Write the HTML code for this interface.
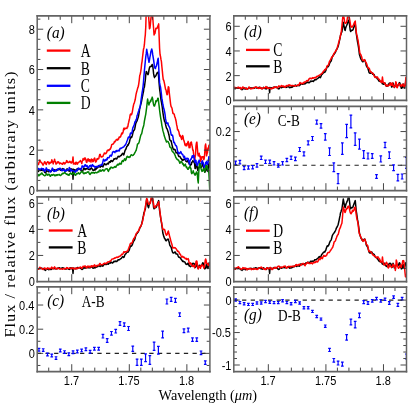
<!DOCTYPE html>
<html><head><meta charset="utf-8"><style>html,body{margin:0;padding:0;background:#fff;overflow:hidden}svg{display:block;filter:blur(0.3px)}</style></head>
<body><svg width="415" height="409" viewBox="0 0 415 409">
<rect width="415" height="409" fill="#fff"/>
<defs>
<clipPath id="cpa"><rect x="37.20" y="15.90" width="172.70" height="174.60"/></clipPath>
<clipPath id="cpb"><rect x="37.20" y="196.80" width="172.70" height="84.70"/></clipPath>
<clipPath id="cpc"><rect x="37.20" y="286.90" width="172.70" height="84.60"/></clipPath>
<clipPath id="cpd"><rect x="233.80" y="15.80" width="172.70" height="84.50"/></clipPath>
<clipPath id="cpe"><rect x="233.80" y="106.30" width="172.70" height="84.20"/></clipPath>
<clipPath id="cpf"><rect x="233.80" y="196.80" width="172.70" height="84.70"/></clipPath>
<clipPath id="cpg"><rect x="233.80" y="287.10" width="172.70" height="84.40"/></clipPath>
</defs>
<g opacity="0.999">
<polyline points="36.62,163.80 37.08,163.93 37.55,163.91 38.01,163.76 38.47,164.53 38.93,162.70 39.39,161.93 39.85,160.12 40.31,161.39 40.77,161.81 41.23,162.78 41.69,162.70 42.15,163.38 42.61,164.30 43.07,165.14 43.53,164.22 43.99,163.32 44.45,161.97 44.91,161.79 45.37,163.02 45.83,163.81 46.30,164.47 46.76,162.75 47.22,162.41 47.68,161.71 48.14,161.85 48.60,162.51 49.06,164.07 49.52,163.58 49.98,162.23 50.44,162.99 50.90,162.55 51.36,162.43 51.82,159.81 52.28,161.19 52.74,161.90 53.20,163.87 53.66,161.51 54.12,161.41 54.59,159.22 55.05,161.76 55.51,161.48 55.97,164.08 56.43,163.86 56.89,163.19 57.35,162.84 57.81,161.66 58.27,162.17 58.73,161.99 59.19,163.25 59.65,163.88 60.11,163.07 60.57,163.08 61.03,163.37 61.49,163.56 61.95,163.94 62.41,164.30 62.87,164.09 63.34,162.54 63.80,162.72 64.26,162.67 64.72,163.89 65.18,163.44 65.64,162.74 66.10,162.63 66.56,160.63 67.02,161.93 67.48,161.19 67.94,162.57 68.40,162.53 68.86,162.36 69.32,162.29 69.78,161.19 70.24,161.69 70.70,162.43 71.16,162.98 71.62,162.89 72.09,161.24 72.55,161.87 73.01,156.89 73.47,164.08 73.93,162.81 74.39,163.64 74.85,163.70 75.31,164.26 75.77,162.49 76.23,162.22 76.69,162.93 77.15,164.29 77.61,163.85 78.07,162.55 78.53,162.47 78.99,162.02 79.45,161.74 79.91,161.57 80.37,160.52 80.84,161.65 81.30,161.89 81.76,163.59 82.22,161.19 82.68,160.35 83.14,158.56 83.60,159.95 84.06,159.44 84.52,159.48 84.98,157.80 85.44,158.63 85.90,159.80 86.36,162.16 86.82,162.40 87.28,160.56 87.74,159.10 88.20,158.81 88.66,160.54 89.13,161.49 89.59,159.61 90.05,160.77 90.51,160.07 90.97,162.06 91.43,158.97 91.89,160.27 92.35,159.64 92.81,161.70 93.27,161.63 93.73,160.29 94.19,158.43 94.65,157.98 95.11,159.80 95.57,161.99 96.03,161.78 96.49,160.83 96.95,159.11 97.41,158.59 97.88,159.20 98.34,158.91 98.80,158.59 99.26,156.38 99.72,154.55 100.18,154.36 100.64,155.74 101.10,157.02 101.56,157.12 102.02,156.83 102.48,156.55 102.94,156.45 103.40,154.91 103.86,154.50 104.32,153.01 104.78,153.19 105.24,153.24 105.70,153.68 106.16,153.18 106.63,152.49 107.09,151.00 107.55,150.27 108.01,150.38 108.47,149.97 108.93,150.50 109.39,149.36 109.85,149.10 110.31,149.15 110.77,147.91 111.23,146.89 111.69,144.69 112.15,144.44 112.61,144.20 113.07,144.19 113.53,143.40 113.99,142.88 114.45,141.54 114.91,142.00 115.38,141.07 115.84,140.73 116.30,139.58 116.76,139.83 117.22,139.20 117.68,140.13 118.14,139.11 118.60,139.06 119.06,137.20 119.52,136.97 119.98,137.26 120.44,136.89 120.90,135.88 121.36,134.20 121.82,133.02 122.28,133.95 122.74,133.05 123.20,131.47 123.67,128.64 124.13,128.08 124.59,129.46 125.05,128.74 125.51,128.32 125.97,128.37 126.43,128.09 126.89,128.44 127.35,126.71 127.81,126.79 128.27,123.84 128.73,122.18 129.19,119.99 129.65,118.15 130.11,115.11 130.57,113.95 131.03,114.09 131.49,114.71 131.95,113.51 132.42,111.31 132.88,108.30 133.34,105.98 133.80,103.85 134.26,103.08 134.72,101.39 135.18,99.78 135.64,96.86 136.10,94.13 136.56,92.30 137.02,90.65 137.48,88.85 137.94,87.61 138.40,86.09 138.86,83.11 139.32,79.54 139.78,75.17 140.24,74.20 140.70,71.64 141.17,68.61 141.63,63.85 142.09,61.29 142.55,56.99 143.01,53.21 143.47,49.29 143.93,47.71 144.39,44.72 144.85,38.77 145.31,34.86 145.77,26.72 146.23,10.89 146.69,4.13 147.15,2.66 147.61,2.19 148.07,7.32 148.53,14.90 148.99,21.63 149.45,28.77 149.92,28.08 150.38,24.54 150.84,19.10 151.30,15.76 151.76,13.09 152.22,11.07 152.68,16.42 153.14,22.97 153.60,28.50 154.06,34.91 154.52,33.58 154.98,33.45 155.44,30.58 155.90,28.23 156.36,28.18 156.82,28.45 157.28,27.92 157.74,26.14 158.21,25.53 158.67,23.87 159.13,36.39 159.59,48.21 160.05,54.55 160.51,56.46 160.97,59.40 161.43,61.68 161.89,66.79 162.35,71.17 162.81,76.09 163.27,79.57 163.73,80.27 164.19,82.17 164.65,84.35 165.11,86.87 165.57,89.39 166.03,89.95 166.49,92.54 166.96,94.65 167.42,94.53 167.88,90.42 168.34,86.66 168.80,87.16 169.26,92.46 169.72,96.51 170.18,100.34 170.64,104.34 171.10,106.61 171.56,107.28 172.02,108.29 172.48,110.83 172.94,113.48 173.40,113.41 173.86,113.82 174.32,114.53 174.78,116.84 175.24,117.69 175.71,119.80 176.17,121.52 176.63,124.68 177.09,126.65 177.55,129.83 178.01,129.61 178.47,130.76 178.93,131.94 179.39,134.54 179.85,136.11 180.31,135.44 180.77,136.92 181.23,138.06 181.69,139.41 182.15,136.58 182.61,135.46 183.07,136.71 183.53,139.95 183.99,140.70 184.46,142.46 184.92,144.75 185.38,145.67 185.84,144.97 186.30,143.84 186.76,145.88 187.22,144.19 187.68,142.85 188.14,141.35 188.60,142.99 189.06,147.64 189.52,146.93 189.98,147.70 190.44,143.15 190.90,142.38 191.36,141.94 191.82,145.04 192.28,146.65 192.75,150.07 193.21,150.11 193.67,154.66 194.13,156.51 194.59,162.36 195.05,157.40 195.51,154.95 195.97,146.05 196.43,142.94 196.89,142.09 197.35,147.78 197.81,153.49 198.27,155.90 198.73,154.17 199.19,153.23 199.65,156.55 200.11,155.92 200.57,161.16 201.03,157.02 201.50,159.52 201.96,156.87 202.42,156.84 202.88,156.96 203.34,156.76 203.80,159.72 204.26,158.12 204.72,153.52 205.18,146.01 205.64,144.08 206.10,148.14 206.56,155.87 207.02,153.63 207.48,152.43 207.94,147.93 208.40,149.08 208.86,145.69 209.32,145.06 209.78,144.59 210.25,144.83" fill="none" stroke="#ff0000" stroke-width="1.5" stroke-linejoin="round" clip-path="url(#cpa)"/>
<polyline points="36.62,169.87 37.08,170.03 37.55,170.55 38.01,170.98 38.47,171.39 38.93,170.84 39.39,169.79 39.85,169.49 40.31,169.89 40.77,170.38 41.23,169.88 41.69,169.45 42.15,170.28 42.61,170.50 43.07,170.15 43.53,170.39 43.99,170.63 44.45,172.14 44.91,172.11 45.37,172.91 45.83,171.93 46.30,171.92 46.76,170.68 47.22,170.45 47.68,169.82 48.14,171.44 48.60,171.84 49.06,171.76 49.52,170.22 49.98,170.80 50.44,171.04 50.90,171.67 51.36,171.25 51.82,170.35 52.28,170.25 52.74,169.79 53.20,169.89 53.66,169.76 54.12,169.80 54.59,170.25 55.05,169.87 55.51,170.51 55.97,170.53 56.43,169.77 56.89,169.95 57.35,169.49 57.81,170.21 58.27,169.68 58.73,169.01 59.19,168.63 59.65,168.96 60.11,170.07 60.57,170.18 61.03,169.58 61.49,169.23 61.95,169.60 62.41,169.10 62.87,168.65 63.34,169.00 63.80,169.27 64.26,170.37 64.72,169.90 65.18,170.71 65.64,170.77 66.10,170.96 66.56,169.74 67.02,168.73 67.48,169.38 67.94,170.37 68.40,170.65 68.86,171.04 69.32,170.84 69.78,171.27 70.24,169.38 70.70,168.70 71.16,168.83 71.62,169.77 72.09,170.32 72.55,169.24 73.01,179.21 73.47,169.29 73.93,169.97 74.39,169.79 74.85,169.72 75.31,170.57 75.77,170.51 76.23,170.64 76.69,169.28 77.15,168.86 77.61,168.58 78.07,168.84 78.53,169.38 78.99,168.72 79.45,169.08 79.91,168.51 80.37,169.84 80.84,169.60 81.30,170.89 81.76,171.29 82.22,171.64 82.68,171.15 83.14,169.83 83.60,168.32 84.06,168.24 84.52,168.67 84.98,169.82 85.44,169.02 85.90,168.72 86.36,168.93 86.82,168.78 87.28,168.34 87.74,168.79 88.20,169.21 88.66,169.46 89.13,169.43 89.59,169.20 90.05,169.69 90.51,168.48 90.97,168.48 91.43,167.90 91.89,168.78 92.35,168.92 92.81,170.11 93.27,170.39 93.73,170.07 94.19,170.12 94.65,168.93 95.11,170.13 95.57,168.41 96.03,169.25 96.49,167.58 96.95,167.76 97.41,167.97 97.88,167.50 98.34,166.55 98.80,165.50 99.26,166.19 99.72,166.93 100.18,167.27 100.64,166.28 101.10,166.31 101.56,165.58 102.02,166.49 102.48,166.35 102.94,166.87 103.40,165.48 103.86,165.02 104.32,163.52 104.78,164.05 105.24,164.17 105.70,164.67 106.16,164.73 106.63,164.04 107.09,163.80 107.55,163.37 108.01,163.90 108.47,163.88 108.93,162.47 109.39,161.78 109.85,161.65 110.31,162.14 110.77,160.65 111.23,160.61 111.69,160.66 112.15,161.57 112.61,161.47 113.07,160.65 113.53,160.02 113.99,158.68 114.45,159.27 114.91,158.71 115.38,158.81 115.84,158.22 116.30,158.89 116.76,159.05 117.22,157.95 117.68,157.37 118.14,156.25 118.60,156.81 119.06,156.54 119.52,156.77 119.98,156.14 120.44,155.83 120.90,155.38 121.36,155.50 121.82,154.40 122.28,153.68 122.74,153.24 123.20,154.01 123.67,154.98 124.13,153.90 124.59,152.09 125.05,150.45 125.51,149.77 125.97,148.96 126.43,147.48 126.89,146.34 127.35,146.14 127.81,144.83 128.27,145.17 128.73,143.49 129.19,143.17 129.65,141.02 130.11,139.05 130.57,137.10 131.03,136.90 131.49,137.60 131.95,136.61 132.42,135.16 132.88,132.81 133.34,131.42 133.80,130.36 134.26,130.10 134.72,128.96 135.18,126.50 135.64,123.93 136.10,122.58 136.56,121.63 137.02,120.89 137.48,119.53 137.94,118.12 138.40,116.71 138.86,114.09 139.32,111.32 139.78,107.89 140.24,106.52 140.70,104.63 141.17,103.21 141.63,100.91 142.09,98.26 142.55,96.20 143.01,93.55 143.47,91.54 143.93,87.98 144.39,87.07 144.85,83.50 145.31,80.16 145.77,74.79 146.23,71.58 146.69,71.95 147.15,73.23 147.61,74.17 148.07,74.59 148.53,72.95 148.99,69.99 149.45,67.81 149.92,66.68 150.38,66.48 150.84,66.67 151.30,66.33 151.76,65.29 152.22,64.46 152.68,65.69 153.14,69.22 153.60,73.69 154.06,76.21 154.52,77.62 154.98,76.33 155.44,76.31 155.90,75.67 156.36,74.52 156.82,73.46 157.28,72.65 157.74,72.83 158.21,71.95 158.67,77.55 159.13,83.36 159.59,88.81 160.05,92.02 160.51,96.19 160.97,99.75 161.43,102.19 161.89,104.87 162.35,107.89 162.81,111.97 163.27,114.78 163.73,117.77 164.19,119.80 164.65,121.79 165.11,121.95 165.57,124.46 166.03,126.31 166.49,128.19 166.96,128.56 167.42,129.74 167.88,131.17 168.34,132.51 168.80,134.56 169.26,136.32 169.72,139.80 170.18,140.10 170.64,140.84 171.10,140.78 171.56,142.84 172.02,144.87 172.48,146.81 172.94,148.39 173.40,149.13 173.86,149.78 174.32,149.30 174.78,149.41 175.24,150.03 175.71,151.80 176.17,153.04 176.63,152.63 177.09,152.55 177.55,152.69 178.01,154.38 178.47,155.87 178.93,156.50 179.39,156.35 179.85,156.48 180.31,157.13 180.77,158.32 181.23,158.50 181.69,159.54 182.15,159.79 182.61,160.59 183.07,159.39 183.53,159.95 183.99,159.32 184.46,159.13 184.92,159.02 185.38,160.04 185.84,161.26 186.30,161.28 186.76,161.85 187.22,161.90 187.68,160.40 188.14,159.93 188.60,160.73 189.06,163.86 189.52,163.58 189.98,164.92 190.44,165.29 190.90,164.55 191.36,164.44 191.82,162.19 192.28,162.10 192.75,160.88 193.21,161.69 193.67,161.32 194.13,162.07 194.59,163.77 195.05,168.49 195.51,168.46 195.97,165.80 196.43,162.67 196.89,164.30 197.35,168.04 197.81,170.49 198.27,168.87 198.73,167.95 199.19,166.86 199.65,166.85 200.11,166.99 200.57,167.38 201.03,167.51 201.50,167.19 201.96,166.37 202.42,163.85 202.88,162.83 203.34,163.50 203.80,168.89 204.26,169.19 204.72,172.22 205.18,171.81 205.64,171.10 206.10,167.08 206.56,165.18 207.02,169.06 207.48,170.69 207.94,171.49 208.40,167.94 208.86,163.96 209.32,162.61 209.78,164.75 210.25,168.17" fill="none" stroke="#000" stroke-width="1.5" stroke-linejoin="round" clip-path="url(#cpa)"/>
<polyline points="36.62,170.33 37.08,168.91 37.55,168.28 38.01,168.20 38.47,169.29 38.93,168.81 39.39,169.36 39.85,169.83 40.31,169.70 40.77,168.84 41.23,168.64 41.69,168.25 42.15,168.84 42.61,168.87 43.07,170.16 43.53,168.82 43.99,170.09 44.45,170.19 44.91,171.45 45.37,169.82 45.83,169.03 46.30,167.84 46.76,169.23 47.22,169.15 47.68,170.20 48.14,169.64 48.60,169.77 49.06,170.17 49.52,171.05 49.98,171.62 50.44,171.98 50.90,171.10 51.36,170.64 51.82,169.52 52.28,168.13 52.74,168.49 53.20,169.64 53.66,171.10 54.12,171.56 54.59,171.36 55.05,170.62 55.51,170.46 55.97,170.93 56.43,170.78 56.89,170.45 57.35,169.00 57.81,169.37 58.27,168.91 58.73,169.11 59.19,168.41 59.65,168.54 60.11,168.33 60.57,168.85 61.03,170.02 61.49,170.37 61.95,170.79 62.41,169.76 62.87,170.51 63.34,169.33 63.80,169.40 64.26,169.31 64.72,171.40 65.18,171.64 65.64,170.94 66.10,170.33 66.56,170.10 67.02,170.45 67.48,169.66 67.94,170.18 68.40,169.80 68.86,169.54 69.32,167.49 69.78,168.10 70.24,169.00 70.70,171.13 71.16,170.02 71.62,170.45 72.09,170.23 72.55,170.74 73.01,170.64 73.47,170.94 73.93,171.22 74.39,171.92 74.85,172.23 75.31,172.19 75.77,170.80 76.23,169.97 76.69,170.66 77.15,170.88 77.61,170.11 78.07,168.49 78.53,168.09 78.99,168.98 79.45,168.77 79.91,168.92 80.37,168.94 80.84,169.67 81.30,168.24 81.76,167.22 82.22,165.84 82.68,166.87 83.14,166.27 83.60,167.20 84.06,166.84 84.52,165.71 84.98,164.70 85.44,164.75 85.90,166.19 86.36,166.52 86.82,165.50 87.28,165.80 87.74,167.13 88.20,168.11 88.66,167.84 89.13,166.73 89.59,165.79 90.05,165.65 90.51,165.26 90.97,166.81 91.43,166.51 91.89,165.76 92.35,164.64 92.81,165.07 93.27,166.33 93.73,165.75 94.19,166.53 94.65,166.74 95.11,167.61 95.57,166.62 96.03,166.66 96.49,166.52 96.95,166.92 97.41,166.33 97.88,166.37 98.34,166.67 98.80,166.52 99.26,165.65 99.72,165.31 100.18,165.21 100.64,165.10 101.10,164.93 101.56,164.43 102.02,165.11 102.48,163.34 102.94,161.61 103.40,159.30 103.86,159.74 104.32,160.33 104.78,161.12 105.24,160.52 105.70,159.62 106.16,160.12 106.63,159.13 107.09,159.73 107.55,157.63 108.01,157.78 108.47,157.72 108.93,157.84 109.39,156.92 109.85,155.89 110.31,155.17 110.77,155.37 111.23,156.14 111.69,155.30 112.15,153.95 112.61,151.95 113.07,151.98 113.53,151.57 113.99,151.75 114.45,152.03 114.91,152.59 115.38,151.37 115.84,151.59 116.30,150.54 116.76,151.48 117.22,151.10 117.68,150.86 118.14,150.32 118.60,150.25 119.06,151.06 119.52,150.22 119.98,148.47 120.44,148.31 120.90,148.44 121.36,148.25 121.82,147.90 122.28,147.45 122.74,147.43 123.20,146.88 123.67,146.93 124.13,146.38 124.59,145.54 125.05,145.11 125.51,144.93 125.97,143.77 126.43,142.80 126.89,141.26 127.35,140.25 127.81,139.07 128.27,137.25 128.73,137.56 129.19,136.46 129.65,137.12 130.11,134.50 130.57,132.99 131.03,133.05 131.49,133.57 131.95,132.97 132.42,130.02 132.88,127.72 133.34,126.94 133.80,125.91 134.26,124.58 134.72,123.06 135.18,121.18 135.64,121.48 136.10,119.51 136.56,119.27 137.02,115.75 137.48,114.77 137.94,113.16 138.40,111.83 138.86,110.52 139.32,108.79 139.78,108.26 140.24,105.96 140.70,103.34 141.17,99.27 141.63,96.16 142.09,92.63 142.55,90.07 143.01,86.86 143.47,82.27 143.93,76.18 144.39,70.89 144.85,65.96 145.31,61.27 145.77,56.90 146.23,53.64 146.69,49.24 147.15,52.12 147.61,53.85 148.07,57.59 148.53,59.69 148.99,62.32 149.45,60.08 149.92,57.06 150.38,55.09 150.84,51.74 151.30,50.41 151.76,49.07 152.22,50.96 152.68,54.38 153.14,57.01 153.60,59.83 154.06,63.36 154.52,67.61 154.98,68.05 155.44,68.58 155.90,66.55 156.36,66.19 156.82,64.23 157.28,62.53 157.74,59.83 158.21,58.21 158.67,66.26 159.13,75.53 159.59,82.64 160.05,85.37 160.51,86.95 160.97,90.62 161.43,94.25 161.89,99.24 162.35,101.04 162.81,104.30 163.27,106.13 163.73,108.61 164.19,109.85 164.65,112.11 165.11,114.81 165.57,118.93 166.03,121.11 166.49,123.29 166.96,122.71 167.42,123.65 167.88,122.96 168.34,125.27 168.80,125.97 169.26,127.05 169.72,127.68 170.18,129.64 170.64,132.00 171.10,134.28 171.56,135.36 172.02,135.32 172.48,135.07 172.94,137.04 173.40,140.31 173.86,142.49 174.32,142.38 174.78,143.50 175.24,144.65 175.71,145.69 176.17,145.61 176.63,146.38 177.09,148.59 177.55,151.06 178.01,152.07 178.47,153.57 178.93,152.95 179.39,153.71 179.85,152.83 180.31,152.42 180.77,151.59 181.23,152.89 181.69,153.80 182.15,154.10 182.61,154.14 183.07,155.56 183.53,156.66 183.99,157.59 184.46,156.26 184.92,158.27 185.38,158.27 185.84,160.06 186.30,158.81 186.76,158.28 187.22,158.34 187.68,158.86 188.14,158.43 188.60,161.44 189.06,161.80 189.52,164.46 189.98,160.95 190.44,159.72 190.90,158.98 191.36,158.99 191.82,157.31 192.28,155.83 192.75,157.23 193.21,156.80 193.67,155.25 194.13,157.64 194.59,161.55 195.05,162.56 195.51,160.26 195.97,160.49 196.43,164.01 196.89,165.35 197.35,165.21 197.81,164.90 198.27,161.75 198.73,161.17 199.19,160.07 199.65,163.36 200.11,163.47 200.57,164.96 201.03,163.89 201.50,162.70 201.96,161.21 202.42,160.72 202.88,162.62 203.34,163.87 203.80,165.68 204.26,167.17 204.72,165.16 205.18,166.05 205.64,162.39 206.10,162.87 206.56,161.50 207.02,163.90 207.48,164.36 207.94,161.99 208.40,161.60 208.86,156.74 209.32,156.69 209.78,158.55 210.25,160.54" fill="none" stroke="#0000ff" stroke-width="1.5" stroke-linejoin="round" clip-path="url(#cpa)"/>
<polyline points="36.62,176.53 37.08,176.53 37.55,175.70 38.01,174.49 38.47,175.05 38.93,175.85 39.39,175.32 39.85,174.56 40.31,174.20 40.77,174.50 41.23,173.52 41.69,172.92 42.15,173.32 42.61,174.24 43.07,174.52 43.53,174.84 43.99,175.45 44.45,175.68 44.91,175.81 45.37,175.34 45.83,175.30 46.30,173.81 46.76,174.14 47.22,174.22 47.68,175.32 48.14,174.73 48.60,174.18 49.06,174.31 49.52,174.85 49.98,176.04 50.44,176.21 50.90,175.58 51.36,174.81 51.82,174.83 52.28,175.21 52.74,175.20 53.20,174.50 53.66,174.58 54.12,174.68 54.59,175.70 55.05,175.93 55.51,175.08 55.97,175.22 56.43,174.84 56.89,175.44 57.35,174.61 57.81,174.80 58.27,174.91 58.73,174.72 59.19,174.37 59.65,175.17 60.11,175.21 60.57,175.54 61.03,174.92 61.49,174.73 61.95,174.04 62.41,173.38 62.87,173.68 63.34,173.53 63.80,173.39 64.26,172.64 64.72,172.41 65.18,172.98 65.64,173.55 66.10,173.78 66.56,174.31 67.02,174.11 67.48,174.70 67.94,174.23 68.40,175.09 68.86,175.23 69.32,175.05 69.78,173.85 70.24,172.99 70.70,173.00 71.16,173.46 71.62,174.25 72.09,174.02 72.55,174.02 73.01,173.36 73.47,172.74 73.93,172.62 74.39,173.54 74.85,174.69 75.31,175.31 75.77,175.16 76.23,174.16 76.69,173.38 77.15,173.51 77.61,173.77 78.07,173.29 78.53,172.74 78.99,173.32 79.45,174.01 79.91,173.70 80.37,173.08 80.84,172.38 81.30,171.94 81.76,171.67 82.22,171.56 82.68,171.79 83.14,172.98 83.60,173.63 84.06,173.76 84.52,173.22 84.98,172.73 85.44,173.01 85.90,173.23 86.36,172.97 86.82,172.48 87.28,171.95 87.74,172.15 88.20,171.95 88.66,171.87 89.13,173.37 89.59,174.12 90.05,174.46 90.51,173.77 90.97,173.36 91.43,172.59 91.89,172.35 92.35,172.92 92.81,172.52 93.27,172.48 93.73,172.50 94.19,173.28 94.65,172.86 95.11,172.60 95.57,172.33 96.03,172.66 96.49,172.64 96.95,172.81 97.41,172.14 97.88,171.90 98.34,171.73 98.80,172.01 99.26,170.35 99.72,170.71 100.18,169.94 100.64,171.12 101.10,170.75 101.56,170.94 102.02,170.40 102.48,169.67 102.94,169.74 103.40,170.30 103.86,171.00 104.32,170.81 104.78,170.18 105.24,169.20 105.70,169.13 106.16,168.81 106.63,168.65 107.09,168.66 107.55,169.69 108.01,170.79 108.47,171.40 108.93,169.91 109.39,169.66 109.85,168.35 110.31,168.69 110.77,167.31 111.23,167.19 111.69,167.27 112.15,167.89 112.61,168.07 113.07,167.72 113.53,167.64 113.99,167.46 114.45,166.59 114.91,166.88 115.38,166.48 115.84,167.29 116.30,166.12 116.76,165.54 117.22,164.85 117.68,164.27 118.14,165.04 118.60,164.20 119.06,164.50 119.52,163.19 119.98,163.28 120.44,163.86 120.90,164.16 121.36,163.82 121.82,161.65 122.28,160.86 122.74,160.53 123.20,161.54 123.67,160.71 124.13,159.70 124.59,158.74 125.05,159.16 125.51,160.38 125.97,159.68 126.43,158.05 126.89,156.68 127.35,156.20 127.81,156.85 128.27,157.29 128.73,156.94 129.19,157.42 129.65,156.76 130.11,156.91 130.57,155.65 131.03,155.05 131.49,154.68 131.95,155.10 132.42,155.55 132.88,155.38 133.34,155.03 133.80,154.38 134.26,153.95 134.72,152.84 135.18,152.07 135.64,151.09 136.10,150.59 136.56,148.66 137.02,146.85 137.48,144.21 137.94,143.94 138.40,143.41 138.86,142.89 139.32,141.30 139.78,139.40 140.24,137.30 140.70,135.62 141.17,134.25 141.63,133.86 142.09,131.82 142.55,129.43 143.01,127.71 143.47,126.56 143.93,124.42 144.39,121.22 144.85,118.74 145.31,116.37 145.77,114.04 146.23,110.70 146.69,107.27 147.15,102.74 147.61,99.02 148.07,101.64 148.53,103.75 148.99,104.96 149.45,102.48 149.92,102.53 150.38,100.89 150.84,101.30 151.30,99.08 151.76,98.89 152.22,97.14 152.68,98.98 153.14,102.28 153.60,104.68 154.06,105.90 154.52,105.96 154.98,104.42 155.44,103.22 155.90,100.67 156.36,101.69 156.82,100.69 157.28,100.13 157.74,98.37 158.21,98.37 158.67,102.53 159.13,106.21 159.59,110.25 160.05,113.70 160.51,116.82 160.97,119.58 161.43,122.19 161.89,125.58 162.35,127.57 162.81,130.21 163.27,131.91 163.73,133.45 164.19,135.59 164.65,136.93 165.11,138.27 165.57,139.69 166.03,140.67 166.49,142.06 166.96,141.84 167.42,141.37 167.88,141.50 168.34,141.85 168.80,143.37 169.26,143.94 169.72,146.45 170.18,147.26 170.64,147.55 171.10,147.72 171.56,149.34 172.02,150.73 172.48,151.74 172.94,151.70 173.40,152.53 173.86,152.89 174.32,153.62 174.78,154.66 175.24,155.61 175.71,157.29 176.17,157.88 176.63,158.98 177.09,158.91 177.55,159.79 178.01,159.75 178.47,160.12 178.93,160.97 179.39,162.03 179.85,163.29 180.31,162.66 180.77,161.88 181.23,161.41 181.69,162.25 182.15,162.70 182.61,164.10 183.07,163.61 183.53,164.91 183.99,165.88 184.46,165.69 184.92,164.84 185.38,164.13 185.84,165.88 186.30,167.34 186.76,166.96 187.22,168.44 187.68,169.17 188.14,169.30 188.60,168.35 189.06,167.16 189.52,167.78 189.98,166.22 190.44,168.19 190.90,168.31 191.36,172.71 191.82,173.66 192.28,173.00 192.75,172.38 193.21,170.81 193.67,172.68 194.13,173.16 194.59,174.49 195.05,175.17 195.51,174.63 195.97,173.37 196.43,171.97 196.89,172.15 197.35,174.46 197.81,180.22 198.27,182.91 198.73,172.64 199.19,166.41 199.65,163.63 200.11,163.56 200.57,165.85 201.03,168.45 201.50,169.94 201.96,171.37 202.42,171.06 202.88,170.72 203.34,168.69 203.80,169.01 204.26,169.02 204.72,172.03 205.18,169.65 205.64,169.07 206.10,165.40 206.56,166.91 207.02,165.95 207.48,169.06 207.94,169.54 208.40,169.24 208.86,172.85 209.32,180.37 209.78,191.81 210.25,192.68" fill="none" stroke="#008000" stroke-width="1.5" stroke-linejoin="round" clip-path="url(#cpa)"/>
<polyline points="36.62,268.36 37.08,268.46 37.55,268.79 38.01,269.08 38.47,269.35 38.93,268.99 39.39,268.32 39.85,268.13 40.31,268.38 40.77,268.70 41.23,268.38 41.69,268.11 42.15,268.65 42.61,268.79 43.07,268.57 43.53,268.72 43.99,268.89 44.45,269.86 44.91,269.84 45.37,270.36 45.83,269.74 46.30,269.73 46.76,268.93 47.22,268.78 47.68,268.38 48.14,269.43 48.60,269.69 49.06,269.64 49.52,268.65 49.98,269.02 50.44,269.18 50.90,269.59 51.36,269.32 51.82,268.74 52.28,268.68 52.74,268.39 53.20,268.45 53.66,268.37 54.12,268.40 54.59,268.69 55.05,268.45 55.51,268.86 55.97,268.88 56.43,268.39 56.89,268.51 57.35,268.22 57.81,268.68 58.27,268.34 58.73,267.91 59.19,267.67 59.65,267.88 60.11,268.61 60.57,268.68 61.03,268.30 61.49,268.07 61.95,268.31 62.41,267.99 62.87,267.70 63.34,267.93 63.80,268.11 64.26,268.82 64.72,268.52 65.18,269.04 65.64,269.09 66.10,269.21 66.56,268.42 67.02,267.77 67.48,268.20 67.94,268.84 68.40,269.02 68.86,269.27 69.32,269.15 69.78,269.43 70.24,268.21 70.70,267.77 71.16,267.86 71.62,268.47 72.09,268.81 72.55,268.09 73.01,273.42 73.47,268.09 73.93,268.51 74.39,268.37 74.85,268.31 75.31,268.84 75.77,268.78 76.23,268.85 76.69,267.97 77.15,267.70 77.61,267.52 78.07,267.68 78.53,268.03 78.99,267.61 79.45,267.84 79.91,267.47 80.37,268.33 80.84,268.18 81.30,269.01 81.76,269.27 82.22,269.49 82.68,269.17 83.14,268.32 83.60,267.34 84.06,267.30 84.52,267.57 84.98,268.32 85.44,267.80 85.90,267.58 86.36,267.68 86.82,267.55 87.28,267.24 87.74,267.50 88.20,267.74 88.66,267.87 89.13,267.83 89.59,267.65 90.05,267.93 90.51,267.12 90.97,267.09 91.43,266.68 91.89,267.22 92.35,267.28 92.81,268.02 93.27,268.17 93.73,267.93 94.19,267.93 94.65,267.13 95.11,267.88 95.57,266.74 96.03,267.32 96.49,266.32 96.95,266.50 97.41,266.71 97.88,266.48 98.34,265.94 98.80,265.33 99.26,265.85 99.72,266.33 100.18,266.52 100.64,265.85 101.10,265.84 101.56,265.34 102.02,265.90 102.48,265.78 102.94,266.09 103.40,265.17 103.86,264.84 104.32,263.84 104.78,264.16 105.24,264.21 105.70,264.54 106.16,264.61 106.63,264.19 107.09,264.06 107.55,263.81 108.01,264.18 108.47,264.19 108.93,263.30 109.39,262.88 109.85,262.82 110.31,263.17 110.77,262.24 111.23,262.25 111.69,262.31 112.15,262.94 112.61,262.92 113.07,262.42 113.53,262.05 113.99,261.22 114.45,261.64 114.91,261.32 115.38,261.41 115.84,261.04 116.30,261.49 116.76,261.60 117.22,260.90 117.68,260.54 118.14,259.70 118.60,259.95 119.06,259.66 119.52,259.70 119.98,259.18 120.44,258.87 120.90,258.47 121.36,258.43 121.82,257.61 122.28,257.03 122.74,256.63 123.20,257.02 123.67,257.53 124.13,256.94 124.59,255.65 125.05,254.47 125.51,254.05 125.97,253.67 126.43,252.85 126.89,252.26 127.35,252.28 127.81,251.57 128.27,251.94 128.73,250.87 129.19,250.31 129.65,248.56 130.11,247.23 130.57,245.91 131.03,245.73 131.49,246.12 131.95,245.43 132.42,244.43 132.88,242.85 133.34,241.74 133.80,240.83 134.26,240.46 134.72,239.53 135.18,237.74 135.64,235.89 136.10,234.82 136.56,234.00 137.02,233.54 137.48,232.89 137.94,232.21 138.40,231.53 138.86,230.55 139.32,229.48 139.78,227.99 140.24,227.51 140.70,226.38 141.17,225.55 141.63,224.16 142.09,222.06 142.55,220.06 143.01,217.67 143.47,215.69 143.93,212.72 144.39,211.81 144.85,210.04 145.31,209.27 145.77,205.56 146.23,202.69 146.69,199.09 147.15,201.71 147.61,204.10 148.07,206.80 148.53,207.76 148.99,205.53 149.45,203.80 149.92,202.74 150.38,201.63 150.84,200.55 151.30,199.13 151.76,197.26 152.22,196.91 152.68,199.25 153.14,203.07 153.60,207.51 154.06,208.78 154.52,208.06 154.98,207.46 155.44,207.68 155.90,207.50 156.36,206.98 156.82,205.59 157.28,204.04 157.74,203.25 158.21,201.79 158.67,200.65 159.13,205.49 159.59,210.52 160.05,213.39 160.51,216.87 160.97,219.96 161.43,222.34 161.89,225.40 162.35,228.86 162.81,233.01 163.27,234.46 163.73,236.31 164.19,237.55 164.65,238.76 165.11,238.79 165.57,240.33 166.03,240.84 166.49,240.77 166.96,239.74 167.42,239.34 167.88,239.10 168.34,239.19 168.80,240.93 169.26,242.47 169.72,245.13 170.18,245.73 170.64,246.62 171.10,246.99 171.56,248.73 172.02,250.45 172.48,252.11 172.94,252.80 173.40,252.92 173.86,252.98 174.32,252.32 174.78,252.03 175.24,252.08 175.71,253.12 176.17,254.09 176.63,253.99 177.09,254.10 177.55,254.36 178.01,255.61 178.47,256.74 178.93,257.25 179.39,257.25 179.85,257.44 180.31,257.96 180.77,258.83 181.23,259.10 181.69,260.10 182.15,260.60 182.61,261.45 183.07,261.01 183.53,261.71 183.99,261.64 184.46,261.85 184.92,262.12 185.38,263.12 185.84,264.07 186.30,264.08 186.76,264.45 187.22,264.47 187.68,263.50 188.14,263.20 188.60,263.71 189.06,265.73 189.52,265.55 189.98,266.41 190.44,266.65 190.90,266.17 191.36,266.09 191.82,264.52 192.28,264.31 192.75,263.37 193.21,263.74 193.67,263.35 194.13,263.68 194.59,264.63 195.05,267.53 195.51,267.36 195.97,265.49 196.43,263.31 196.89,264.21 197.35,266.47 197.81,267.91 198.27,266.71 198.73,266.07 199.19,265.37 199.65,265.37 200.11,265.47 200.57,265.72 201.03,265.82 201.50,265.61 201.96,265.08 202.42,263.46 202.88,262.80 203.34,263.24 203.80,266.73 204.26,266.93 204.72,268.89 205.18,268.62 205.64,268.17 206.10,265.58 206.56,264.35 207.02,266.87 207.48,267.92 207.94,268.45 208.40,266.15 208.86,263.59 209.32,262.71 209.78,264.10 210.25,266.32" fill="none" stroke="#000" stroke-width="1.5" stroke-linejoin="round" clip-path="url(#cpb)"/>
<polyline points="36.62,268.87 37.08,268.93 37.55,268.92 38.01,268.86 38.47,269.22 38.93,268.37 39.39,268.01 39.85,267.16 40.31,267.76 40.77,267.96 41.23,268.42 41.69,268.38 42.15,268.70 42.61,269.14 43.07,269.53 43.53,269.10 43.99,268.68 44.45,268.05 44.91,267.97 45.37,268.55 45.83,268.93 46.30,269.23 46.76,268.43 47.22,268.28 47.68,267.95 48.14,268.02 48.60,268.33 49.06,269.06 49.52,268.84 49.98,268.20 50.44,268.57 50.90,268.36 51.36,268.31 51.82,267.08 52.28,267.73 52.74,268.07 53.20,268.99 53.66,267.89 54.12,267.84 54.59,266.82 55.05,268.02 55.51,267.89 55.97,269.11 56.43,269.01 56.89,268.70 57.35,268.53 57.81,267.98 58.27,268.23 58.73,268.14 59.19,268.73 59.65,269.03 60.11,268.65 60.57,268.66 61.03,268.80 61.49,268.89 61.95,269.08 62.41,269.25 62.87,269.15 63.34,268.43 63.80,268.51 64.26,268.49 64.72,269.07 65.18,268.86 65.64,268.53 66.10,268.48 66.56,267.55 67.02,268.16 67.48,267.82 67.94,268.46 68.40,268.45 68.86,268.37 69.32,268.34 69.78,267.83 70.24,268.07 70.70,268.41 71.16,268.68 71.62,268.64 72.09,267.83 72.55,268.07 73.01,268.05 73.47,269.01 73.93,268.37 74.39,268.70 74.85,268.68 75.31,268.89 75.77,268.02 76.23,267.85 76.69,268.19 77.15,268.83 77.61,268.62 78.07,268.02 78.53,267.99 78.99,267.78 79.45,267.65 79.91,267.57 80.37,267.08 80.84,267.61 81.30,267.73 81.76,268.53 82.22,267.41 82.68,267.02 83.14,266.18 83.60,266.84 84.06,266.60 84.52,266.62 84.98,265.84 85.44,266.23 85.90,266.78 86.36,267.83 86.82,267.88 87.28,266.96 87.74,266.22 88.20,266.02 88.66,266.77 89.13,267.16 89.59,266.22 90.05,266.70 90.51,266.32 90.97,267.19 91.43,265.68 91.89,266.23 92.35,265.88 92.81,266.78 93.27,266.69 93.73,266.01 94.19,265.08 94.65,264.81 95.11,265.60 95.57,266.57 96.03,266.51 96.49,266.14 96.95,265.40 97.41,265.23 97.88,265.59 98.34,265.53 98.80,265.45 99.26,264.47 99.72,263.60 100.18,263.50 100.64,264.13 101.10,264.72 101.56,264.75 102.02,264.60 102.48,264.46 102.94,264.48 103.40,263.84 103.86,263.71 104.32,263.09 104.78,263.24 105.24,263.34 105.70,263.65 106.16,263.53 106.63,263.24 107.09,262.49 107.55,262.10 108.01,262.11 108.47,261.87 108.93,262.07 109.39,261.49 109.85,261.32 110.31,261.30 110.77,260.73 111.23,260.26 111.69,259.24 112.15,259.13 112.61,259.03 113.07,259.03 113.53,258.67 113.99,258.53 114.45,258.02 114.91,258.26 115.38,257.85 115.84,257.72 116.30,257.21 116.76,257.35 117.22,257.08 117.68,257.54 118.14,257.09 118.60,257.10 119.06,256.25 119.52,256.17 119.98,256.18 120.44,255.99 120.90,255.50 121.36,254.70 121.82,254.13 122.28,254.55 122.74,254.11 123.20,253.36 123.67,252.01 124.13,251.73 124.59,252.37 125.05,252.00 125.51,251.76 125.97,251.74 126.43,251.56 126.89,251.68 127.35,250.83 127.81,250.82 128.27,249.40 128.73,248.24 129.19,246.94 129.65,245.81 130.11,244.11 130.57,243.34 131.03,243.29 131.49,243.57 131.95,243.00 132.42,241.96 132.88,240.54 133.34,239.44 133.80,238.43 134.26,238.08 134.72,237.35 135.18,236.65 135.64,235.32 136.10,233.98 136.56,233.20 137.02,232.62 137.48,231.98 137.94,231.59 138.40,231.18 138.86,230.18 139.32,228.90 139.78,227.21 140.24,227.11 140.70,226.26 141.17,225.65 141.63,224.01 142.09,223.05 142.55,221.27 143.01,218.93 143.47,216.26 143.93,214.69 144.39,212.41 144.85,209.33 145.31,207.20 145.77,204.31 146.23,201.45 146.69,198.36 147.15,199.34 147.61,200.78 148.07,202.58 148.53,204.25 148.99,203.99 149.45,203.92 149.92,203.66 150.38,202.79 150.84,199.73 151.30,197.66 151.76,195.90 152.22,196.82 152.68,198.89 153.14,201.51 153.60,203.67 154.06,207.17 154.52,207.54 154.98,207.69 155.44,206.57 155.90,205.63 156.36,205.66 156.82,205.48 157.28,204.81 157.74,203.56 158.21,202.86 158.67,201.66 159.13,205.89 159.59,208.65 160.05,212.75 160.51,216.08 160.97,219.88 161.43,221.50 161.89,224.45 162.35,226.89 162.81,229.44 163.27,229.58 163.73,229.22 164.19,229.41 164.65,229.71 165.11,231.34 165.57,233.38 166.03,234.49 166.49,235.30 166.96,234.63 167.42,233.82 167.88,232.03 168.34,230.95 168.80,232.83 169.26,235.05 169.72,236.68 170.18,238.20 170.64,240.11 171.10,242.09 171.56,243.33 172.02,244.73 172.48,246.85 172.94,248.14 173.40,247.87 173.86,247.83 174.32,247.63 174.78,248.09 175.24,247.87 175.71,248.34 176.17,248.73 176.63,249.80 177.09,250.31 177.55,251.38 178.01,251.12 178.47,251.50 178.93,252.05 179.39,253.27 179.85,254.01 180.31,254.13 180.77,255.26 181.23,256.23 181.69,257.30 182.15,256.41 182.61,256.32 183.07,256.57 183.53,257.50 183.99,257.27 184.46,257.50 184.92,258.19 185.38,258.81 185.84,258.68 186.30,258.35 186.76,259.60 187.22,259.19 187.68,258.96 188.14,258.65 188.60,259.81 189.06,262.74 189.52,263.15 189.98,264.26 190.44,262.89 190.90,263.28 191.36,263.82 191.82,265.69 192.28,265.99 192.75,266.38 193.21,265.20 193.67,266.13 194.13,265.78 194.59,267.76 195.05,266.01 195.51,265.43 195.97,261.82 196.43,260.93 196.89,261.10 197.35,264.33 197.81,267.58 198.27,268.96 198.73,267.50 199.19,266.40 199.65,267.31 200.11,266.38 200.57,268.20 201.03,265.62 201.50,266.16 201.96,264.83 202.42,265.27 202.88,265.77 203.34,266.13 203.80,267.97 204.26,267.42 204.72,264.66 205.18,260.55 205.64,259.05 206.10,260.36 206.56,263.38 207.02,263.26 207.48,264.14 207.94,263.48 208.40,265.46 208.86,265.31 209.32,265.75 209.78,265.54 210.25,265.66" fill="none" stroke="#ff0000" stroke-width="1.5" stroke-linejoin="round" clip-path="url(#cpb)"/>
<polyline points="233.22,87.86 233.68,87.96 234.15,88.27 234.61,88.54 235.07,88.80 235.53,88.46 235.99,87.82 236.45,87.64 236.91,87.88 237.37,88.19 237.83,87.88 238.29,87.63 238.75,88.13 239.21,88.27 239.67,88.06 240.13,88.21 240.59,88.36 241.05,89.28 241.51,89.26 241.97,89.76 242.43,89.16 242.90,89.16 243.36,88.40 243.82,88.26 244.28,87.88 244.74,88.87 245.20,89.12 245.66,89.07 246.12,88.13 246.58,88.49 247.04,88.64 247.50,89.03 247.96,88.77 248.42,88.22 248.88,88.16 249.34,87.89 249.80,87.95 250.26,87.87 250.72,87.90 251.19,88.17 251.65,87.94 252.11,88.34 252.57,88.35 253.03,87.89 253.49,88.00 253.95,87.73 254.41,88.17 254.87,87.84 255.33,87.44 255.79,87.21 256.25,87.41 256.71,88.09 257.17,88.16 257.63,87.80 258.09,87.58 258.55,87.81 259.01,87.51 259.47,87.24 259.94,87.45 260.40,87.62 260.86,88.30 261.32,88.01 261.78,88.51 262.24,88.55 262.70,88.66 263.16,87.92 263.62,87.31 264.08,87.71 264.54,88.31 265.00,88.49 265.46,88.73 265.92,88.61 266.38,88.87 266.84,87.72 267.30,87.31 267.76,87.39 268.22,87.97 268.69,88.29 269.15,87.61 269.61,92.65 270.07,87.61 270.53,88.00 270.99,87.87 271.45,87.81 271.91,88.31 272.37,88.26 272.83,88.32 273.29,87.49 273.75,87.23 274.21,87.06 274.67,87.22 275.13,87.55 275.59,87.15 276.05,87.37 276.51,87.02 276.97,87.83 277.44,87.69 277.90,88.48 278.36,88.72 278.82,88.93 279.28,88.63 279.74,87.83 280.20,86.90 280.66,86.85 281.12,87.11 281.58,87.82 282.04,87.33 282.50,87.12 282.96,87.22 283.42,87.10 283.88,86.80 284.34,87.05 284.80,87.27 285.26,87.40 285.73,87.36 286.19,87.19 286.65,87.45 287.11,86.68 287.57,86.66 288.03,86.27 288.49,86.78 288.95,86.84 289.41,87.53 289.87,87.68 290.33,87.46 290.79,87.45 291.25,86.70 291.71,87.40 292.17,86.33 292.63,86.88 293.09,85.93 293.55,86.10 294.01,86.30 294.48,86.08 294.94,85.57 295.40,84.99 295.86,85.49 296.32,85.94 296.78,86.12 297.24,85.48 297.70,85.48 298.16,85.00 298.62,85.53 299.08,85.42 299.54,85.71 300.00,84.84 300.46,84.53 300.92,83.58 301.38,83.88 301.84,83.93 302.30,84.25 302.76,84.31 303.23,83.91 303.69,83.79 304.15,83.55 304.61,83.90 305.07,83.91 305.53,83.07 305.99,82.67 306.45,82.62 306.91,82.94 307.37,82.07 307.83,82.08 308.29,82.14 308.75,82.73 309.21,82.71 309.67,82.24 310.13,81.89 310.59,81.10 311.05,81.50 311.51,81.20 311.98,81.28 312.44,80.93 312.90,81.35 313.36,81.46 313.82,80.80 314.28,80.45 314.74,79.67 315.20,79.90 315.66,79.63 316.12,79.66 316.58,79.17 317.04,78.87 317.50,78.49 317.96,78.46 318.42,77.68 318.88,77.13 319.34,76.76 319.80,77.12 320.27,77.61 320.73,77.05 321.19,75.83 321.65,74.72 322.11,74.31 322.57,73.95 323.03,73.18 323.49,72.62 323.95,72.64 324.41,71.97 324.87,72.31 325.33,71.30 325.79,70.77 326.25,69.12 326.71,67.86 327.17,66.61 327.63,66.43 328.09,66.81 328.55,66.15 329.02,65.21 329.48,63.72 329.94,62.66 330.40,61.80 330.86,61.45 331.32,60.57 331.78,58.87 332.24,57.12 332.70,56.11 333.16,55.34 333.62,54.90 334.08,54.28 334.54,53.64 335.00,53.00 335.46,52.07 335.92,51.06 336.38,49.64 336.84,49.19 337.30,48.12 337.77,47.34 338.23,46.02 338.69,44.03 339.15,42.13 339.61,39.87 340.07,38.00 340.53,35.19 340.99,34.33 341.45,32.65 341.91,31.92 342.37,28.41 342.83,25.69 343.29,22.28 343.75,24.76 344.21,27.02 344.67,29.58 345.13,30.49 345.59,28.38 346.05,26.74 346.52,25.74 346.98,24.69 347.44,23.67 347.90,22.33 348.36,20.56 348.82,20.22 349.28,22.44 349.74,26.06 350.20,30.26 350.66,31.46 351.12,30.77 351.58,30.21 352.04,30.41 352.50,30.24 352.96,29.76 353.42,28.44 353.88,26.97 354.34,26.23 354.81,24.84 355.27,23.76 355.73,28.34 356.19,33.10 356.65,35.82 357.11,39.12 357.57,42.05 358.03,44.29 358.49,47.19 358.95,50.47 359.41,54.40 359.87,55.77 360.33,57.52 360.79,58.70 361.25,59.84 361.71,59.87 362.17,61.32 362.63,61.81 363.09,61.74 363.56,60.77 364.02,60.39 364.48,60.16 364.94,60.25 365.40,61.89 365.86,63.35 366.32,65.87 366.78,66.43 367.24,67.28 367.70,67.63 368.16,69.27 368.62,70.90 369.08,72.48 369.54,73.14 370.00,73.25 370.46,73.30 370.92,72.68 371.38,72.41 371.84,72.45 372.31,73.44 372.77,74.35 373.23,74.26 373.69,74.36 374.15,74.61 374.61,75.79 375.07,76.86 375.53,77.34 375.99,77.34 376.45,77.52 376.91,78.02 377.37,78.84 377.83,79.09 378.29,80.04 378.75,80.51 379.21,81.32 379.67,80.91 380.13,81.57 380.59,81.50 381.06,81.70 381.52,81.95 381.98,82.90 382.44,83.80 382.90,83.81 383.36,84.16 383.82,84.18 384.28,83.26 384.74,82.98 385.20,83.46 385.66,85.38 386.12,85.20 386.58,86.02 387.04,86.24 387.50,85.78 387.96,85.72 388.42,84.23 388.88,84.03 389.35,83.14 389.81,83.49 390.27,83.12 390.73,83.43 391.19,84.33 391.65,87.07 392.11,86.91 392.57,85.14 393.03,83.08 393.49,83.93 393.95,86.07 394.41,87.43 394.87,86.29 395.33,85.70 395.79,85.03 396.25,85.03 396.71,85.12 397.17,85.36 397.63,85.45 398.10,85.26 398.56,84.76 399.02,83.22 399.48,82.60 399.94,83.02 400.40,86.31 400.86,86.51 401.32,88.36 401.78,88.11 402.24,87.68 402.70,85.23 403.16,84.07 403.62,86.45 404.08,87.45 404.54,87.94 405.00,85.77 405.46,83.34 405.92,82.52 406.38,83.83 406.85,85.93" fill="none" stroke="#000" stroke-width="1.5" stroke-linejoin="round" clip-path="url(#cpd)"/>
<polyline points="233.22,88.42 233.68,87.61 234.15,87.25 234.61,87.20 235.07,87.82 235.53,87.54 235.99,87.85 236.45,88.11 236.91,88.03 237.37,87.53 237.83,87.41 238.29,87.19 238.75,87.52 239.21,87.53 239.67,88.27 240.13,87.49 240.59,88.22 241.05,88.27 241.51,88.98 241.97,88.05 242.43,87.59 242.90,86.90 243.36,87.70 243.82,87.65 244.28,88.24 244.74,87.92 245.20,87.99 245.66,88.21 246.12,88.71 246.58,89.03 247.04,89.24 247.50,88.73 247.96,88.46 248.42,87.81 248.88,87.01 249.34,87.21 249.80,87.87 250.26,88.70 250.72,88.95 251.19,88.84 251.65,88.41 252.11,88.31 252.57,88.58 253.03,88.49 253.49,88.29 253.95,87.46 254.41,87.67 254.87,87.40 255.33,87.51 255.79,87.11 256.25,87.18 256.71,87.05 257.17,87.34 257.63,88.01 258.09,88.20 258.55,88.44 259.01,87.84 259.47,88.27 259.94,87.59 260.40,87.62 260.86,87.57 261.32,88.76 261.78,88.89 262.24,88.49 262.70,88.14 263.16,88.00 263.62,88.19 264.08,87.74 264.54,88.03 265.00,87.81 265.46,87.66 265.92,86.48 266.38,86.82 266.84,87.33 267.30,88.55 267.76,87.91 268.22,88.15 268.69,87.99 269.15,88.24 269.61,88.15 270.07,88.28 270.53,88.40 270.99,88.76 271.45,88.90 271.91,88.84 272.37,88.00 272.83,87.52 273.29,87.96 273.75,88.15 274.21,87.76 274.67,86.89 275.13,86.72 275.59,87.28 276.05,87.22 276.51,87.36 276.97,87.42 277.44,87.89 277.90,87.14 278.36,86.60 278.82,85.87 279.28,86.52 279.74,86.23 280.20,86.82 280.66,86.66 281.12,86.08 281.58,85.55 282.04,85.64 282.50,86.52 282.96,86.64 283.42,85.99 283.88,86.10 284.34,86.79 284.80,87.29 285.26,87.07 285.73,86.38 286.19,85.77 286.65,85.63 287.11,85.34 287.57,86.16 288.03,85.93 288.49,85.44 288.95,84.73 289.41,84.91 289.87,85.57 290.33,85.17 290.79,85.55 291.25,85.61 291.71,86.05 292.17,85.41 292.63,85.49 293.09,85.51 293.55,85.84 294.01,85.60 294.48,85.72 294.94,85.99 295.40,86.00 295.86,85.61 296.32,85.44 296.78,85.40 297.24,85.35 297.70,85.26 298.16,84.99 298.62,85.48 299.08,84.57 299.54,83.69 300.00,82.47 300.46,82.83 300.92,83.27 301.38,83.82 301.84,83.58 302.30,83.17 302.76,83.56 303.23,83.10 303.69,83.38 304.15,82.07 304.61,82.04 305.07,81.93 305.53,81.99 305.99,81.46 306.45,80.87 306.91,80.46 307.37,80.57 307.83,81.00 308.29,80.52 308.75,79.75 309.21,78.60 309.67,78.56 310.13,78.21 310.59,78.31 311.05,78.47 311.51,78.79 311.98,78.09 312.44,78.21 312.90,77.61 313.36,78.14 313.82,77.92 314.28,77.78 314.74,77.48 315.20,77.43 315.66,77.89 316.12,77.41 316.58,76.41 317.04,76.32 317.50,76.26 317.96,76.06 318.42,75.77 318.88,75.42 319.34,75.31 319.80,74.90 320.27,74.83 320.73,74.43 321.19,73.86 321.65,73.51 322.11,73.32 322.57,72.57 323.03,71.95 323.49,71.14 323.95,70.76 324.41,70.28 324.87,69.44 325.33,69.81 325.79,68.94 326.25,68.92 326.71,67.02 327.17,65.76 327.63,65.40 328.09,65.46 328.55,64.89 329.02,62.97 329.48,61.42 329.94,60.73 330.40,59.91 330.86,59.04 331.32,58.19 331.78,57.13 332.24,57.31 332.70,56.20 333.16,56.07 333.62,54.07 334.08,53.52 334.54,52.61 335.00,51.96 335.46,51.31 335.92,50.43 336.38,50.23 336.84,49.02 337.30,47.63 337.77,45.81 338.23,44.52 338.69,42.54 339.15,41.11 339.61,39.29 340.07,37.58 340.53,35.33 340.99,33.55 341.45,30.51 341.91,26.15 342.37,21.21 342.83,16.66 343.29,13.36 343.75,16.39 344.21,18.77 344.67,22.29 345.13,23.36 345.59,23.20 346.05,22.87 346.52,22.09 346.98,20.76 347.44,17.48 347.90,15.36 348.36,13.23 348.82,14.19 349.28,17.26 349.74,19.88 350.20,22.61 350.66,25.75 351.12,26.94 351.58,26.76 352.04,27.18 352.50,26.14 352.96,26.05 353.42,25.03 353.88,24.10 354.34,22.62 354.81,21.74 355.27,21.15 355.73,27.30 356.19,31.72 356.65,34.18 357.11,35.97 357.57,38.27 358.03,40.12 358.49,43.60 358.95,45.93 359.41,50.22 359.87,53.01 360.33,54.11 360.79,54.57 361.25,55.67 361.71,57.03 362.17,59.19 362.63,60.25 363.09,60.68 363.56,60.04 364.02,60.26 364.48,59.55 364.94,60.56 365.40,61.19 365.86,62.57 366.32,63.06 366.78,64.32 367.24,65.80 367.70,67.24 368.16,68.00 368.62,68.11 369.08,68.15 369.54,69.13 370.00,70.85 370.46,71.94 370.92,71.72 371.38,72.24 371.84,72.83 372.31,73.33 372.77,73.20 373.23,73.55 373.69,74.73 374.15,76.05 374.61,76.63 375.07,77.49 375.53,77.13 375.99,77.56 376.45,77.05 376.91,77.11 377.37,76.92 377.83,77.96 378.29,78.77 378.75,79.09 379.21,79.26 379.67,80.23 380.13,81.01 380.59,81.69 381.06,81.09 381.52,82.39 381.98,81.20 382.44,77.03 382.90,80.81 383.36,82.73 383.82,82.73 384.28,83.01 384.74,82.73 385.20,84.43 385.66,84.61 386.12,86.10 386.58,84.95 387.04,85.01 387.50,85.33 387.96,86.07 388.42,85.85 388.88,85.07 389.35,85.26 389.81,84.41 390.27,82.92 390.73,83.68 391.19,85.31 391.65,85.28 392.11,83.07 392.57,82.95 393.03,85.37 393.49,86.54 393.95,86.86 394.41,87.09 394.87,85.69 395.33,85.76 395.79,81.71 396.25,82.87 396.71,87.19 397.17,87.65 397.63,86.64 398.10,85.57 398.56,84.32 399.02,83.65 399.48,84.35 399.94,84.66 400.40,85.31 400.86,85.98 401.32,85.29 401.78,86.13 402.24,84.33 402.70,84.89 403.16,84.40 403.62,86.06 404.08,86.61 404.54,85.55 405.00,85.61 405.46,82.20 405.92,77.22 406.38,78.77 406.85,79.91" fill="none" stroke="#ff0000" stroke-width="1.5" stroke-linejoin="round" clip-path="url(#cpd)"/>
<polyline points="233.22,268.36 233.68,268.46 234.15,268.79 234.61,269.08 235.07,269.35 235.53,268.99 235.99,268.32 236.45,268.13 236.91,268.38 237.37,268.70 237.83,268.38 238.29,268.11 238.75,268.65 239.21,268.79 239.67,268.57 240.13,268.72 240.59,268.89 241.05,269.86 241.51,269.84 241.97,270.36 242.43,269.74 242.90,269.73 243.36,268.93 243.82,268.78 244.28,268.38 244.74,269.43 245.20,269.69 245.66,269.64 246.12,268.65 246.58,269.02 247.04,269.18 247.50,269.59 247.96,269.32 248.42,268.74 248.88,268.68 249.34,268.39 249.80,268.45 250.26,268.37 250.72,268.40 251.19,268.69 251.65,268.45 252.11,268.86 252.57,268.88 253.03,268.39 253.49,268.51 253.95,268.22 254.41,268.68 254.87,268.34 255.33,267.91 255.79,267.67 256.25,267.88 256.71,268.61 257.17,268.68 257.63,268.30 258.09,268.07 258.55,268.31 259.01,267.99 259.47,267.70 259.94,267.93 260.40,268.11 260.86,268.82 261.32,268.52 261.78,269.04 262.24,269.09 262.70,269.21 263.16,268.42 263.62,267.77 264.08,268.20 264.54,268.84 265.00,269.02 265.46,269.27 265.92,269.15 266.38,269.43 266.84,268.21 267.30,267.77 267.76,267.86 268.22,268.47 268.69,268.81 269.15,268.09 269.61,273.42 270.07,268.09 270.53,268.51 270.99,268.37 271.45,268.31 271.91,268.84 272.37,268.78 272.83,268.85 273.29,267.97 273.75,267.70 274.21,267.52 274.67,267.68 275.13,268.03 275.59,267.61 276.05,267.84 276.51,267.47 276.97,268.33 277.44,268.18 277.90,269.01 278.36,269.27 278.82,269.49 279.28,269.17 279.74,268.32 280.20,267.34 280.66,267.30 281.12,267.57 281.58,268.32 282.04,267.80 282.50,267.58 282.96,267.68 283.42,267.55 283.88,267.24 284.34,267.50 284.80,267.74 285.26,267.87 285.73,267.83 286.19,267.65 286.65,267.93 287.11,267.12 287.57,267.09 288.03,266.68 288.49,267.22 288.95,267.28 289.41,268.02 289.87,268.17 290.33,267.93 290.79,267.93 291.25,267.13 291.71,267.88 292.17,266.74 292.63,267.32 293.09,266.32 293.55,266.50 294.01,266.71 294.48,266.48 294.94,265.94 295.40,265.33 295.86,265.85 296.32,266.33 296.78,266.52 297.24,265.85 297.70,265.84 298.16,265.34 298.62,265.90 299.08,265.78 299.54,266.09 300.00,265.17 300.46,264.84 300.92,263.84 301.38,264.16 301.84,264.21 302.30,264.54 302.76,264.61 303.23,264.19 303.69,264.06 304.15,263.81 304.61,264.18 305.07,264.19 305.53,263.30 305.99,262.88 306.45,262.82 306.91,263.17 307.37,262.24 307.83,262.25 308.29,262.31 308.75,262.94 309.21,262.92 309.67,262.42 310.13,262.05 310.59,261.22 311.05,261.64 311.51,261.32 311.98,261.41 312.44,261.04 312.90,261.49 313.36,261.60 313.82,260.90 314.28,260.54 314.74,259.70 315.20,259.95 315.66,259.66 316.12,259.70 316.58,259.18 317.04,258.87 317.50,258.47 317.96,258.43 318.42,257.61 318.88,257.03 319.34,256.63 319.80,257.02 320.27,257.53 320.73,256.94 321.19,255.65 321.65,254.47 322.11,254.05 322.57,253.67 323.03,252.85 323.49,252.26 323.95,252.28 324.41,251.57 324.87,251.94 325.33,250.87 325.79,250.31 326.25,248.56 326.71,247.23 327.17,245.91 327.63,245.73 328.09,246.12 328.55,245.43 329.02,244.43 329.48,242.85 329.94,241.74 330.40,240.83 330.86,240.46 331.32,239.53 331.78,237.74 332.24,235.89 332.70,234.82 333.16,234.00 333.62,233.54 334.08,232.89 334.54,232.21 335.00,231.53 335.46,230.55 335.92,229.48 336.38,227.99 336.84,227.51 337.30,226.38 337.77,225.55 338.23,224.16 338.69,222.06 339.15,220.06 339.61,217.67 340.07,215.69 340.53,212.72 340.99,211.81 341.45,210.04 341.91,209.27 342.37,205.56 342.83,202.69 343.29,199.09 343.75,201.71 344.21,204.10 344.67,206.80 345.13,207.76 345.59,205.53 346.05,203.80 346.52,202.74 346.98,201.63 347.44,200.55 347.90,199.13 348.36,197.26 348.82,196.91 349.28,199.25 349.74,203.07 350.20,207.51 350.66,208.78 351.12,208.06 351.58,207.46 352.04,207.68 352.50,207.50 352.96,206.98 353.42,205.59 353.88,204.04 354.34,203.25 354.81,201.79 355.27,200.65 355.73,205.49 356.19,210.52 356.65,213.39 357.11,216.87 357.57,219.96 358.03,222.34 358.49,225.40 358.95,228.86 359.41,233.01 359.87,234.46 360.33,236.31 360.79,237.55 361.25,238.76 361.71,238.79 362.17,240.33 362.63,240.84 363.09,240.77 363.56,239.74 364.02,239.34 364.48,239.10 364.94,239.19 365.40,240.93 365.86,242.47 366.32,245.13 366.78,245.73 367.24,246.62 367.70,246.99 368.16,248.73 368.62,250.45 369.08,252.11 369.54,252.80 370.00,252.92 370.46,252.98 370.92,252.32 371.38,252.03 371.84,252.08 372.31,253.12 372.77,254.09 373.23,253.99 373.69,254.10 374.15,254.36 374.61,255.61 375.07,256.74 375.53,257.25 375.99,257.25 376.45,257.44 376.91,257.96 377.37,258.83 377.83,259.10 378.29,260.10 378.75,260.60 379.21,261.45 379.67,261.01 380.13,261.71 380.59,261.64 381.06,261.85 381.52,262.12 381.98,263.12 382.44,264.07 382.90,264.08 383.36,264.45 383.82,264.47 384.28,263.50 384.74,263.20 385.20,263.71 385.66,265.73 386.12,265.55 386.58,266.41 387.04,266.65 387.50,266.17 387.96,266.09 388.42,264.52 388.88,264.31 389.35,263.37 389.81,263.74 390.27,263.35 390.73,263.68 391.19,264.63 391.65,267.53 392.11,267.36 392.57,265.49 393.03,263.31 393.49,264.21 393.95,266.47 394.41,267.91 394.87,266.71 395.33,266.07 395.79,265.37 396.25,265.37 396.71,265.47 397.17,265.72 397.63,265.82 398.10,265.61 398.56,265.08 399.02,263.46 399.48,262.80 399.94,263.24 400.40,266.73 400.86,266.93 401.32,268.89 401.78,268.62 402.24,268.17 402.70,265.58 403.16,264.35 403.62,266.87 404.08,267.92 404.54,268.45 405.00,266.15 405.46,263.59 405.92,262.71 406.38,264.10 406.85,266.32" fill="none" stroke="#000" stroke-width="1.5" stroke-linejoin="round" clip-path="url(#cpf)"/>
<polyline points="233.22,269.50 233.68,269.51 234.15,268.84 234.61,267.84 235.07,268.33 235.53,269.02 235.99,268.59 236.45,267.97 236.91,267.68 237.37,267.95 237.83,267.15 238.29,266.66 238.75,267.01 239.21,267.80 239.67,268.05 240.13,268.33 240.59,268.87 241.05,269.08 241.51,269.20 241.97,268.83 242.43,268.81 242.90,267.58 243.36,267.87 243.82,267.95 244.28,268.90 244.74,268.41 245.20,267.97 245.66,268.10 246.12,268.57 246.58,269.58 247.04,269.74 247.50,269.23 247.96,268.60 248.42,268.63 248.88,268.97 249.34,268.98 249.80,268.41 250.26,268.49 250.72,268.60 251.19,269.47 251.65,269.68 252.11,268.98 252.57,269.12 253.03,268.81 253.49,269.34 253.95,268.65 254.41,268.83 254.87,268.94 255.33,268.80 255.79,268.52 256.25,269.21 256.71,269.26 257.17,269.55 257.63,269.05 258.09,268.91 258.55,268.35 259.01,267.81 259.47,268.08 259.94,267.97 260.40,267.87 260.86,267.25 261.32,267.08 261.78,267.57 262.24,268.07 262.70,268.28 263.16,268.74 263.62,268.59 264.08,269.10 264.54,268.73 265.00,269.46 265.46,269.60 265.92,269.47 266.38,268.48 266.84,267.77 267.30,267.79 267.76,268.20 268.22,268.88 268.69,268.67 269.15,268.65 269.61,268.07 270.07,267.52 270.53,267.40 270.99,268.15 271.45,269.09 271.91,269.59 272.37,269.43 272.83,268.57 273.29,267.90 273.75,267.98 274.21,268.18 274.67,267.75 275.13,267.28 275.59,267.73 276.05,268.29 276.51,268.01 276.97,267.47 277.44,266.86 277.90,266.47 278.36,266.23 278.82,266.12 279.28,266.28 279.74,267.26 280.20,267.78 280.66,267.87 281.12,267.40 281.58,266.97 282.04,267.18 282.50,267.34 282.96,267.10 283.42,266.67 283.88,266.20 284.34,266.35 284.80,266.16 285.26,266.08 285.73,267.31 286.19,267.92 286.65,268.18 287.11,267.58 287.57,267.21 288.03,266.55 288.49,266.32 288.95,266.78 289.41,266.43 289.87,266.37 290.33,266.37 290.79,267.00 291.25,266.63 291.71,266.39 292.17,266.14 292.63,266.44 293.09,266.48 293.55,266.67 294.01,266.16 294.48,266.01 294.94,265.91 295.40,266.19 295.86,264.85 296.32,265.16 296.78,264.52 297.24,265.51 297.70,265.19 298.16,265.35 298.62,264.90 299.08,264.29 299.54,264.34 300.00,264.81 300.46,265.40 300.92,265.24 301.38,264.70 301.84,263.88 302.30,263.82 302.76,263.55 303.23,263.41 303.69,263.42 304.15,264.28 304.61,265.20 305.07,265.71 305.53,264.46 305.99,264.25 306.45,263.15 306.91,263.44 307.37,262.40 307.83,262.42 308.29,262.61 308.75,263.27 309.21,263.55 309.67,263.37 310.13,263.43 310.59,263.41 311.05,262.81 311.51,263.18 311.98,263.00 312.44,263.88 312.90,263.11 313.36,262.82 313.82,262.44 314.28,262.15 314.74,262.79 315.20,262.07 315.66,262.31 316.12,261.20 316.58,261.28 317.04,261.74 317.50,261.99 317.96,261.69 318.42,259.86 318.88,259.19 319.34,258.90 319.80,259.74 320.27,259.03 320.73,258.17 321.19,257.35 321.65,257.70 322.11,258.75 322.57,258.19 323.03,256.86 323.49,255.75 323.95,255.37 324.41,255.94 324.87,256.35 325.33,256.01 325.79,256.13 326.25,255.29 326.71,255.14 327.17,253.79 327.63,253.01 328.09,252.42 328.55,252.49 329.02,252.58 329.48,252.15 329.94,251.36 330.40,250.52 330.86,250.18 331.32,249.25 331.78,248.61 332.24,247.79 332.70,247.38 333.16,245.77 333.62,244.26 334.08,242.05 334.54,241.83 335.00,241.30 335.46,240.67 335.92,239.14 336.38,237.97 336.84,236.63 337.30,235.63 337.77,234.78 338.23,234.38 338.69,232.59 339.15,230.50 339.61,228.99 340.07,228.22 340.53,227.15 340.99,225.43 341.45,224.31 341.91,223.29 342.37,218.46 342.83,212.78 343.29,207.02 343.75,208.56 344.21,209.60 344.67,211.77 345.13,212.46 345.59,211.31 346.05,209.26 346.52,209.32 346.98,207.97 347.44,208.34 347.90,206.50 348.36,206.37 348.82,206.08 349.28,208.04 349.74,210.61 350.20,212.40 350.66,213.46 351.12,213.77 351.58,212.75 352.04,212.01 352.50,210.18 352.96,211.39 353.42,210.91 353.88,210.51 354.34,208.22 354.81,207.41 355.27,207.10 355.73,210.66 356.19,214.39 356.65,217.49 357.11,219.63 357.57,221.42 358.03,223.09 358.49,227.55 358.95,231.55 359.41,233.92 359.87,234.63 360.33,235.64 360.79,237.16 361.25,238.01 361.71,238.87 362.17,239.78 362.63,240.50 363.09,241.39 363.56,240.71 364.02,239.81 364.48,239.43 364.94,239.21 365.40,240.79 365.86,242.36 366.32,244.33 366.78,244.87 367.24,244.97 367.70,245.74 368.16,247.98 368.62,250.03 369.08,251.46 369.54,251.15 370.00,251.57 370.46,251.60 370.92,251.93 371.38,252.52 371.84,253.04 372.31,254.18 372.77,254.53 373.23,255.38 373.69,255.25 374.15,255.90 374.61,255.79 375.07,256.03 375.53,256.63 375.99,257.31 376.45,258.17 376.91,257.70 377.37,257.09 377.83,256.75 378.29,257.50 378.75,257.93 379.21,259.15 379.67,259.09 380.13,260.61 380.59,261.87 381.06,262.15 381.52,261.87 381.98,261.71 382.44,256.95 382.90,260.86 383.36,263.33 383.82,264.51 384.28,265.06 384.74,265.10 385.20,264.23 385.66,263.17 386.12,263.61 386.58,262.23 387.04,263.81 387.50,263.85 387.96,267.47 388.42,268.01 388.88,267.14 389.35,266.30 389.81,264.67 390.27,265.92 390.73,266.00 391.19,266.86 391.65,267.33 392.11,266.77 392.57,265.61 393.03,264.33 393.49,264.38 393.95,266.21 394.41,266.60 394.87,266.04 395.33,270.49 395.79,267.81 396.25,260.10 396.71,261.30 397.17,264.49 397.63,266.41 398.10,267.40 398.56,268.33 399.02,267.81 399.48,267.27 399.94,265.30 400.40,265.30 400.86,265.05 401.32,267.26 401.78,264.95 402.24,264.16 402.70,260.76 403.16,261.72 403.62,260.61 404.08,262.91 404.54,267.65 405.00,272.47 405.46,276.67 405.92,276.15 406.38,277.29 406.85,275.91" fill="none" stroke="#ff0000" stroke-width="1.5" stroke-linejoin="round" clip-path="url(#cpf)"/>
<path d="M37.20 353.37H209.90" stroke="#222" stroke-width="1.2" stroke-dasharray="4.3 4.35" stroke-dashoffset="-8.25" fill="none"/>
<path d="M233.80 165.24H406.50" stroke="#222" stroke-width="1.2" stroke-dasharray="4.3 4.35" stroke-dashoffset="-8.25" fill="none"/>
<path d="M233.80 300.08H406.50" stroke="#222" stroke-width="1.2" stroke-dasharray="4.3 4.35" stroke-dashoffset="-8.25" fill="none"/>
<path d="M38.95 348.45V351.15M37.60 348.45h2.7M37.60 351.15h2.7M43.22 348.75V351.45M41.87 348.75h2.7M41.87 351.45h2.7M47.48 353.15V355.85M46.13 353.15h2.7M46.13 355.85h2.7M51.75 354.15V356.85M50.40 354.15h2.7M50.40 356.85h2.7M56.01 356.75V359.45M54.66 356.75h2.7M54.66 359.45h2.7M60.28 349.15V351.85M58.93 349.15h2.7M58.93 351.85h2.7M64.54 350.75V353.45M63.19 350.75h2.7M63.19 353.45h2.7M68.81 352.95V355.65M67.46 352.95h2.7M67.46 355.65h2.7M73.07 350.95V353.65M71.72 350.95h2.7M71.72 353.65h2.7M77.34 350.15V352.85M75.99 350.15h2.7M75.99 352.85h2.7M81.60 349.05V351.75M80.25 349.05h2.7M80.25 351.75h2.7M85.87 347.95V350.65M84.52 347.95h2.7M84.52 350.65h2.7M90.13 350.35V353.05M88.78 350.35h2.7M88.78 353.05h2.7M94.39 347.45V350.15M93.05 347.45h2.7M93.05 350.15h2.7M98.66 347.45V350.15M97.31 347.45h2.7M97.31 350.15h2.7M102.92 334.40V338.00M101.58 334.40h2.7M101.58 338.00h2.7M107.19 338.70V342.30M105.84 338.70h2.7M105.84 342.30h2.7M111.45 331.50V335.10M110.11 331.50h2.7M110.11 335.10h2.7M115.72 329.40V333.00M114.37 329.40h2.7M114.37 333.00h2.7M119.98 321.70V325.30M118.64 321.70h2.7M118.64 325.30h2.7M124.25 322.80V326.40M122.90 322.80h2.7M122.90 326.40h2.7M128.51 326.50V330.50M127.16 326.50h2.7M127.16 330.50h2.7M132.78 346.20V351.40M131.43 346.20h2.7M131.43 351.40h2.7M137.05 359.10V365.30M135.70 359.10h2.7M135.70 365.30h2.7M141.31 359.10V365.30M139.96 359.10h2.7M139.96 365.30h2.7M145.57 353.80V361.60M144.22 353.80h2.7M144.22 361.60h2.7M149.84 355.70V364.30M148.49 355.70h2.7M148.49 364.30h2.7M154.10 342.20V350.40M152.75 342.20h2.7M152.75 350.40h2.7M158.37 346.40V354.20M157.02 346.40h2.7M157.02 354.20h2.7M162.63 331.10V337.90M161.28 331.10h2.7M161.28 337.90h2.7M166.90 299.00V304.00M165.55 299.00h2.7M165.55 304.00h2.7M171.17 297.30V301.30M169.82 297.30h2.7M169.82 301.30h2.7M175.43 298.40V302.40M174.08 298.40h2.7M174.08 302.40h2.7M179.69 312.90V316.50M178.34 312.90h2.7M178.34 316.50h2.7M183.96 328.90V332.70M182.61 328.90h2.7M182.61 332.70h2.7M188.22 328.20V332.00M186.87 328.20h2.7M186.87 332.00h2.7M192.49 337.80V341.40M191.14 337.80h2.7M191.14 341.40h2.7M196.75 337.80V341.40M195.41 337.80h2.7M195.41 341.40h2.7M201.02 351.00V354.60M199.67 351.00h2.7M199.67 354.60h2.7M205.28 360.80V364.40M203.93 360.80h2.7M203.93 364.40h2.7" stroke="#0000ff" stroke-width="1.2" fill="none" clip-path="url(#cpc)"/>
<path d="M235.60 161.10V164.50M234.25 161.10h2.7M234.25 164.50h2.7M239.87 160.40V163.80M238.52 160.40h2.7M238.52 163.80h2.7M244.14 166.30V169.70M242.79 166.30h2.7M242.79 169.70h2.7M248.41 165.80V169.20M247.06 165.80h2.7M247.06 169.20h2.7M252.68 165.50V168.90M251.33 165.50h2.7M251.33 168.90h2.7M256.95 163.70V167.10M255.60 163.70h2.7M255.60 167.10h2.7M261.22 156.10V159.50M259.87 156.10h2.7M259.87 159.50h2.7M265.49 160.10V163.50M264.14 160.10h2.7M264.14 163.50h2.7M269.76 160.10V163.50M268.41 160.10h2.7M268.41 163.50h2.7M274.03 161.60V165.00M272.68 161.60h2.7M272.68 165.00h2.7M278.30 163.80V167.20M276.95 163.80h2.7M276.95 167.20h2.7M282.57 161.60V165.00M281.22 161.60h2.7M281.22 165.00h2.7M286.84 158.30V161.70M285.49 158.30h2.7M285.49 161.70h2.7M291.11 156.10V159.50M289.76 156.10h2.7M289.76 159.50h2.7M295.38 157.20V160.60M294.03 157.20h2.7M294.03 160.60h2.7M299.65 147.50V151.50M298.30 147.50h2.7M298.30 151.50h2.7M303.92 151.90V155.90M302.57 151.90h2.7M302.57 155.90h2.7M308.19 140.90V144.90M306.84 140.90h2.7M306.84 144.90h2.7M312.46 136.50V140.50M311.11 136.50h2.7M311.11 140.50h2.7M316.73 120.20V124.20M315.38 120.20h2.7M315.38 124.20h2.7M321.00 123.70V128.10M319.65 123.70h2.7M319.65 128.10h2.7M325.27 133.60V140.20M323.92 133.60h2.7M323.92 140.20h2.7M329.54 147.90V155.50M328.19 147.90h2.7M328.19 155.50h2.7M333.81 162.90V171.70M332.46 162.90h2.7M332.46 171.70h2.7M338.08 173.70V183.70M336.73 173.70h2.7M336.73 183.70h2.7M342.35 142.80V154.40M341.00 142.80h2.7M341.00 154.40h2.7M346.62 124.40V137.60M345.27 124.40h2.7M345.27 137.60h2.7M350.89 115.20V127.80M349.54 115.20h2.7M349.54 127.80h2.7M355.16 132.80V145.40M353.81 132.80h2.7M353.81 145.40h2.7M359.43 139.20V149.20M358.08 139.20h2.7M358.08 149.20h2.7M363.70 150.70V158.30M362.35 150.70h2.7M362.35 158.30h2.7M367.97 153.00V159.00M366.62 153.00h2.7M366.62 159.00h2.7M372.24 153.60V158.40M370.89 153.60h2.7M370.89 158.40h2.7M376.51 174.60V178.40M375.16 174.60h2.7M375.16 178.40h2.7M380.78 155.80V162.00M379.43 155.80h2.7M379.43 162.00h2.7M385.05 142.30V147.70M383.70 142.30h2.7M383.70 147.70h2.7M389.32 151.90V158.50M387.97 151.90h2.7M387.97 158.50h2.7M393.59 164.80V170.60M392.24 164.80h2.7M392.24 170.60h2.7M397.86 174.30V180.90M396.51 174.30h2.7M396.51 180.90h2.7M402.13 174.00V179.00M400.78 174.00h2.7M400.78 179.00h2.7M406.40 157.30V168.30M405.05 157.30h2.7M405.05 168.30h2.7" stroke="#0000ff" stroke-width="1.2" fill="none" clip-path="url(#cpe)"/>
<path d="M235.60 298.90V301.10M234.25 298.90h2.7M234.25 301.10h2.7M239.87 301.50V303.70M238.52 301.50h2.7M238.52 303.70h2.7M244.14 302.60V304.80M242.79 302.60h2.7M242.79 304.80h2.7M248.41 303.30V305.50M247.06 303.30h2.7M247.06 305.50h2.7M252.68 303.30V305.50M251.33 303.30h2.7M251.33 305.50h2.7M256.95 301.90V304.10M255.60 301.90h2.7M255.60 304.10h2.7M261.22 301.90V304.10M259.87 301.90h2.7M259.87 304.10h2.7M265.49 300.40V302.60M264.14 300.40h2.7M264.14 302.60h2.7M269.76 301.10V303.30M268.41 301.10h2.7M268.41 303.30h2.7M274.03 301.50V303.70M272.68 301.50h2.7M272.68 303.70h2.7M278.30 301.50V303.70M276.95 301.50h2.7M276.95 303.70h2.7M282.57 299.70V301.90M281.22 299.70h2.7M281.22 301.90h2.7M286.84 301.50V303.70M285.49 301.50h2.7M285.49 303.70h2.7M291.11 302.60V304.80M289.76 302.60h2.7M289.76 304.80h2.7M295.38 300.40V302.60M294.03 300.40h2.7M294.03 302.60h2.7M299.65 301.90V304.10M298.30 301.90h2.7M298.30 304.10h2.7M303.92 306.60V308.80M302.57 306.60h2.7M302.57 308.80h2.7M308.19 306.60V308.80M306.84 306.60h2.7M306.84 308.80h2.7M312.46 310.30V312.50M311.11 310.30h2.7M311.11 312.50h2.7M316.73 315.40V317.60M315.38 315.40h2.7M315.38 317.60h2.7M321.00 318.00V320.20M319.65 318.00h2.7M319.65 320.20h2.7M325.27 325.00V327.40M323.92 325.00h2.7M323.92 327.40h2.7M329.54 348.30V351.50M328.19 348.30h2.7M328.19 351.50h2.7M333.81 358.50V362.10M332.46 358.50h2.7M332.46 362.10h2.7M338.08 361.20V365.00M336.73 361.20h2.7M336.73 365.00h2.7M342.35 362.20V366.20M341.00 362.20h2.7M341.00 366.20h2.7M346.62 334.60V340.20M345.27 334.60h2.7M345.27 340.20h2.7M350.89 319.20V324.80M349.54 319.20h2.7M349.54 324.80h2.7M355.16 321.30V327.90M353.81 321.30h2.7M353.81 327.90h2.7M359.43 313.20V317.60M358.08 313.20h2.7M358.08 317.60h2.7M363.70 300.70V303.70M362.35 300.70h2.7M362.35 303.70h2.7M367.97 301.60V304.40M366.62 301.60h2.7M366.62 304.40h2.7M372.24 299.50V302.10M370.89 299.50h2.7M370.89 302.10h2.7M376.51 297.40V299.80M375.16 297.40h2.7M375.16 299.80h2.7M380.78 299.50V302.10M379.43 299.50h2.7M379.43 302.10h2.7M385.05 298.10V300.50M383.70 298.10h2.7M383.70 300.50h2.7M389.32 301.60V304.40M387.97 301.60h2.7M387.97 304.40h2.7M393.59 295.80V298.40M392.24 295.80h2.7M392.24 298.40h2.7M397.86 303.30V306.30M396.51 303.30h2.7M396.51 306.30h2.7M402.13 297.30V299.90M400.78 297.30h2.7M400.78 299.90h2.7M406.40 354.00V359.00M405.05 354.00h2.7M405.05 359.00h2.7" stroke="#0000ff" stroke-width="1.2" fill="none" clip-path="url(#cpg)"/>
<path d="M48.71 190.50v-3.9M48.71 15.90v3.9M60.23 190.50v-3.9M60.23 15.90v3.9M71.74 190.50v-7.3M71.74 15.90v7.3M83.25 190.50v-3.9M83.25 15.90v3.9M94.77 190.50v-3.9M94.77 15.90v3.9M106.28 190.50v-3.9M106.28 15.90v3.9M117.79 190.50v-3.9M117.79 15.90v3.9M129.31 190.50v-7.3M129.31 15.90v7.3M140.82 190.50v-3.9M140.82 15.90v3.9M152.33 190.50v-3.9M152.33 15.90v3.9M163.85 190.50v-3.9M163.85 15.90v3.9M175.36 190.50v-3.9M175.36 15.90v3.9M186.87 190.50v-7.3M186.87 15.90v7.3M198.39 190.50v-3.9M198.39 15.90v3.9M37.20 180.42h3.2M209.90 180.42h-3.2M37.20 170.34h3.2M209.90 170.34h-3.2M37.20 160.26h3.2M209.90 160.26h-3.2M37.20 150.18h6.0M209.90 150.18h-6.0M37.20 140.10h3.2M209.90 140.10h-3.2M37.20 130.02h3.2M209.90 130.02h-3.2M37.20 119.93h3.2M209.90 119.93h-3.2M37.20 109.85h6.0M209.90 109.85h-6.0M37.20 99.77h3.2M209.90 99.77h-3.2M37.20 89.69h3.2M209.90 89.69h-3.2M37.20 79.61h3.2M209.90 79.61h-3.2M37.20 69.53h6.0M209.90 69.53h-6.0M37.20 59.45h3.2M209.90 59.45h-3.2M37.20 49.37h3.2M209.90 49.37h-3.2M37.20 39.29h3.2M209.90 39.29h-3.2M37.20 29.21h6.0M209.90 29.21h-6.0M37.20 19.13h3.2M209.90 19.13h-3.2" stroke="#333" stroke-width="0.9" fill="none"/>
<path d="M48.71 281.50v-3.9M48.71 196.80v3.9M60.23 281.50v-3.9M60.23 196.80v3.9M71.74 281.50v-7.3M71.74 196.80v7.3M83.25 281.50v-3.9M83.25 196.80v3.9M94.77 281.50v-3.9M94.77 196.80v3.9M106.28 281.50v-3.9M106.28 196.80v3.9M117.79 281.50v-3.9M117.79 196.80v3.9M129.31 281.50v-7.3M129.31 196.80v7.3M140.82 281.50v-3.9M140.82 196.80v3.9M152.33 281.50v-3.9M152.33 196.80v3.9M163.85 281.50v-3.9M163.85 196.80v3.9M175.36 281.50v-3.9M175.36 196.80v3.9M186.87 281.50v-7.3M186.87 196.80v7.3M198.39 281.50v-3.9M198.39 196.80v3.9M37.20 268.47h3.2M209.90 268.47h-3.2M37.20 255.44h6.0M209.90 255.44h-6.0M37.20 242.41h3.2M209.90 242.41h-3.2M37.20 229.38h6.0M209.90 229.38h-6.0M37.20 216.35h3.2M209.90 216.35h-3.2M37.20 203.32h6.0M209.90 203.32h-6.0" stroke="#333" stroke-width="0.9" fill="none"/>
<path d="M48.71 371.50v-3.9M48.71 286.90v3.9M60.23 371.50v-3.9M60.23 286.90v3.9M71.74 371.50v-7.3M71.74 286.90v7.3M83.25 371.50v-3.9M83.25 286.90v3.9M94.77 371.50v-3.9M94.77 286.90v3.9M106.28 371.50v-3.9M106.28 286.90v3.9M117.79 371.50v-3.9M117.79 286.90v3.9M129.31 371.50v-7.3M129.31 286.90v7.3M140.82 371.50v-3.9M140.82 286.90v3.9M152.33 371.50v-3.9M152.33 286.90v3.9M163.85 371.50v-3.9M163.85 286.90v3.9M175.36 371.50v-3.9M175.36 286.90v3.9M186.87 371.50v-7.3M186.87 286.90v7.3M198.39 371.50v-3.9M198.39 286.90v3.9M37.20 365.46h3.2M209.90 365.46h-3.2M37.20 353.37h6.0M209.90 353.37h-6.0M37.20 341.29h3.2M209.90 341.29h-3.2M37.20 329.20h6.0M209.90 329.20h-6.0M37.20 317.11h3.2M209.90 317.11h-3.2M37.20 305.03h6.0M209.90 305.03h-6.0M37.20 292.94h3.2M209.90 292.94h-3.2" stroke="#333" stroke-width="0.9" fill="none"/>
<path d="M245.31 100.30v-3.9M245.31 15.80v3.9M256.83 100.30v-3.9M256.83 15.80v3.9M268.34 100.30v-7.3M268.34 15.80v7.3M279.85 100.30v-3.9M279.85 15.80v3.9M291.37 100.30v-3.9M291.37 15.80v3.9M302.88 100.30v-3.9M302.88 15.80v3.9M314.39 100.30v-3.9M314.39 15.80v3.9M325.91 100.30v-7.3M325.91 15.80v7.3M337.42 100.30v-3.9M337.42 15.80v3.9M348.93 100.30v-3.9M348.93 15.80v3.9M360.45 100.30v-3.9M360.45 15.80v3.9M371.96 100.30v-3.9M371.96 15.80v3.9M383.47 100.30v-7.3M383.47 15.80v7.3M394.99 100.30v-3.9M394.99 15.80v3.9M233.80 87.96h3.2M406.50 87.96h-3.2M233.80 75.63h6.0M406.50 75.63h-6.0M233.80 63.29h3.2M406.50 63.29h-3.2M233.80 50.96h6.0M406.50 50.96h-6.0M233.80 38.62h3.2M406.50 38.62h-3.2M233.80 26.29h6.0M406.50 26.29h-6.0" stroke="#333" stroke-width="0.9" fill="none"/>
<path d="M245.31 190.50v-3.9M245.31 106.30v3.9M256.83 190.50v-3.9M256.83 106.30v3.9M268.34 190.50v-7.3M268.34 106.30v7.3M279.85 190.50v-3.9M279.85 106.30v3.9M291.37 190.50v-3.9M291.37 106.30v3.9M302.88 190.50v-3.9M302.88 106.30v3.9M314.39 190.50v-3.9M314.39 106.30v3.9M325.91 190.50v-7.3M325.91 106.30v7.3M337.42 190.50v-3.9M337.42 106.30v3.9M348.93 190.50v-3.9M348.93 106.30v3.9M360.45 190.50v-3.9M360.45 106.30v3.9M371.96 190.50v-3.9M371.96 106.30v3.9M383.47 190.50v-7.3M383.47 106.30v7.3M394.99 190.50v-3.9M394.99 106.30v3.9M233.80 182.08h3.2M406.50 182.08h-3.2M233.80 173.66h3.2M406.50 173.66h-3.2M233.80 165.24h6.0M406.50 165.24h-6.0M233.80 156.82h3.2M406.50 156.82h-3.2M233.80 148.40h3.2M406.50 148.40h-3.2M233.80 139.98h3.2M406.50 139.98h-3.2M233.80 131.56h6.0M406.50 131.56h-6.0M233.80 123.14h3.2M406.50 123.14h-3.2M233.80 114.72h3.2M406.50 114.72h-3.2" stroke="#333" stroke-width="0.9" fill="none"/>
<path d="M245.31 281.50v-3.9M245.31 196.80v3.9M256.83 281.50v-3.9M256.83 196.80v3.9M268.34 281.50v-7.3M268.34 196.80v7.3M279.85 281.50v-3.9M279.85 196.80v3.9M291.37 281.50v-3.9M291.37 196.80v3.9M302.88 281.50v-3.9M302.88 196.80v3.9M314.39 281.50v-3.9M314.39 196.80v3.9M325.91 281.50v-7.3M325.91 196.80v7.3M337.42 281.50v-3.9M337.42 196.80v3.9M348.93 281.50v-3.9M348.93 196.80v3.9M360.45 281.50v-3.9M360.45 196.80v3.9M371.96 281.50v-3.9M371.96 196.80v3.9M383.47 281.50v-7.3M383.47 196.80v7.3M394.99 281.50v-3.9M394.99 196.80v3.9M233.80 268.47h3.2M406.50 268.47h-3.2M233.80 255.44h6.0M406.50 255.44h-6.0M233.80 242.41h3.2M406.50 242.41h-3.2M233.80 229.38h6.0M406.50 229.38h-6.0M233.80 216.35h3.2M406.50 216.35h-3.2M233.80 203.32h6.0M406.50 203.32h-6.0" stroke="#333" stroke-width="0.9" fill="none"/>
<path d="M245.31 371.50v-3.9M245.31 287.10v3.9M256.83 371.50v-3.9M256.83 287.10v3.9M268.34 371.50v-7.3M268.34 287.10v7.3M279.85 371.50v-3.9M279.85 287.10v3.9M291.37 371.50v-3.9M291.37 287.10v3.9M302.88 371.50v-3.9M302.88 287.10v3.9M314.39 371.50v-3.9M314.39 287.10v3.9M325.91 371.50v-7.3M325.91 287.10v7.3M337.42 371.50v-3.9M337.42 287.10v3.9M348.93 371.50v-3.9M348.93 287.10v3.9M360.45 371.50v-3.9M360.45 287.10v3.9M371.96 371.50v-3.9M371.96 287.10v3.9M383.47 371.50v-7.3M383.47 287.10v7.3M394.99 371.50v-3.9M394.99 287.10v3.9M233.80 365.01h6.0M406.50 365.01h-6.0M233.80 358.52h3.2M406.50 358.52h-3.2M233.80 352.02h3.2M406.50 352.02h-3.2M233.80 345.53h3.2M406.50 345.53h-3.2M233.80 339.04h3.2M406.50 339.04h-3.2M233.80 332.55h6.0M406.50 332.55h-6.0M233.80 326.05h3.2M406.50 326.05h-3.2M233.80 319.56h3.2M406.50 319.56h-3.2M233.80 313.07h3.2M406.50 313.07h-3.2M233.80 306.58h3.2M406.50 306.58h-3.2M233.80 300.08h6.0M406.50 300.08h-6.0M233.80 293.59h3.2M406.50 293.59h-3.2" stroke="#333" stroke-width="0.9" fill="none"/>
<path d="M37.20 15.00V191.40M209.90 15.00V191.40" stroke="#636363" stroke-width="1.5" fill="none"/>
<path d="M36.45 15.90H210.65M36.45 190.50H210.65" stroke="#636363" stroke-width="1.75" fill="none"/>
<path d="M37.20 195.90V282.40M209.90 195.90V282.40" stroke="#636363" stroke-width="1.5" fill="none"/>
<path d="M36.45 196.80H210.65M36.45 281.50H210.65" stroke="#636363" stroke-width="1.75" fill="none"/>
<path d="M37.20 286.00V372.40M209.90 286.00V372.40" stroke="#636363" stroke-width="1.5" fill="none"/>
<path d="M36.45 286.90H210.65M36.45 371.50H210.65" stroke="#636363" stroke-width="1.75" fill="none"/>
<path d="M233.80 14.90V101.20M406.50 14.90V101.20" stroke="#636363" stroke-width="1.5" fill="none"/>
<path d="M233.05 15.80H407.25M233.05 100.30H407.25" stroke="#636363" stroke-width="1.75" fill="none"/>
<path d="M233.80 105.40V191.40M406.50 105.40V191.40" stroke="#636363" stroke-width="1.5" fill="none"/>
<path d="M233.05 106.30H407.25M233.05 190.50H407.25" stroke="#636363" stroke-width="1.75" fill="none"/>
<path d="M233.80 195.90V282.40M406.50 195.90V282.40" stroke="#636363" stroke-width="1.5" fill="none"/>
<path d="M233.05 196.80H407.25M233.05 281.50H407.25" stroke="#636363" stroke-width="1.75" fill="none"/>
<path d="M233.80 286.20V372.40M406.50 286.20V372.40" stroke="#636363" stroke-width="1.5" fill="none"/>
<path d="M233.05 287.10H407.25M233.05 371.50H407.25" stroke="#636363" stroke-width="1.75" fill="none"/>
<text transform="translate(34.90,195.40) scale(0.81,1)" font-family="'Liberation Sans', sans-serif" font-size="13.6" text-anchor="end"  >0</text>
<text transform="translate(34.90,155.08) scale(0.81,1)" font-family="'Liberation Sans', sans-serif" font-size="13.6" text-anchor="end"  >2</text>
<text transform="translate(34.90,114.75) scale(0.81,1)" font-family="'Liberation Sans', sans-serif" font-size="13.6" text-anchor="end"  >4</text>
<text transform="translate(34.90,74.43) scale(0.81,1)" font-family="'Liberation Sans', sans-serif" font-size="13.6" text-anchor="end"  >6</text>
<text transform="translate(34.90,34.11) scale(0.81,1)" font-family="'Liberation Sans', sans-serif" font-size="13.6" text-anchor="end"  >8</text>
<text transform="translate(34.90,286.40) scale(0.81,1)" font-family="'Liberation Sans', sans-serif" font-size="13.6" text-anchor="end"  >0</text>
<text transform="translate(231.50,105.20) scale(0.81,1)" font-family="'Liberation Sans', sans-serif" font-size="13.6" text-anchor="end"  >0</text>
<text transform="translate(231.50,286.40) scale(0.81,1)" font-family="'Liberation Sans', sans-serif" font-size="13.6" text-anchor="end"  >0</text>
<text transform="translate(34.90,260.34) scale(0.81,1)" font-family="'Liberation Sans', sans-serif" font-size="13.6" text-anchor="end"  >2</text>
<text transform="translate(231.50,80.53) scale(0.81,1)" font-family="'Liberation Sans', sans-serif" font-size="13.6" text-anchor="end"  >2</text>
<text transform="translate(231.50,260.34) scale(0.81,1)" font-family="'Liberation Sans', sans-serif" font-size="13.6" text-anchor="end"  >2</text>
<text transform="translate(34.90,234.28) scale(0.81,1)" font-family="'Liberation Sans', sans-serif" font-size="13.6" text-anchor="end"  >4</text>
<text transform="translate(231.50,55.86) scale(0.81,1)" font-family="'Liberation Sans', sans-serif" font-size="13.6" text-anchor="end"  >4</text>
<text transform="translate(231.50,234.28) scale(0.81,1)" font-family="'Liberation Sans', sans-serif" font-size="13.6" text-anchor="end"  >4</text>
<text transform="translate(34.90,208.22) scale(0.81,1)" font-family="'Liberation Sans', sans-serif" font-size="13.6" text-anchor="end"  >6</text>
<text transform="translate(231.50,31.19) scale(0.81,1)" font-family="'Liberation Sans', sans-serif" font-size="13.6" text-anchor="end"  >6</text>
<text transform="translate(231.50,208.22) scale(0.81,1)" font-family="'Liberation Sans', sans-serif" font-size="13.6" text-anchor="end"  >6</text>
<text transform="translate(34.90,358.27) scale(0.81,1)" font-family="'Liberation Sans', sans-serif" font-size="13.6" text-anchor="end"  >0</text>
<text transform="translate(34.40,334.10) scale(0.81,1)" font-family="'Liberation Sans', sans-serif" font-size="13.6" text-anchor="end"  >0.2</text>
<text transform="translate(34.40,309.93) scale(0.81,1)" font-family="'Liberation Sans', sans-serif" font-size="13.6" text-anchor="end"  >0.4</text>
<text transform="translate(231.50,170.14) scale(0.81,1)" font-family="'Liberation Sans', sans-serif" font-size="13.6" text-anchor="end"  >0</text>
<text transform="translate(231.00,136.46) scale(0.81,1)" font-family="'Liberation Sans', sans-serif" font-size="13.6" text-anchor="end"  >0.2</text>
<text transform="translate(231.50,304.98) scale(0.81,1)" font-family="'Liberation Sans', sans-serif" font-size="13.6" text-anchor="end"  >0</text>
<text transform="translate(231.00,337.45) scale(0.81,1)" font-family="'Liberation Sans', sans-serif" font-size="13.6" text-anchor="end"  >-0.5</text>
<text transform="translate(231.50,369.91) scale(0.81,1)" font-family="'Liberation Sans', sans-serif" font-size="13.6" text-anchor="end"  >-1</text>
<text transform="translate(71.44,385.20) scale(0.81,1)" font-family="'Liberation Sans', sans-serif" font-size="13.6" text-anchor="middle"  >1.7</text>
<text transform="translate(129.01,385.20) scale(0.81,1)" font-family="'Liberation Sans', sans-serif" font-size="13.6" text-anchor="middle"  >1.75</text>
<text transform="translate(186.57,385.20) scale(0.81,1)" font-family="'Liberation Sans', sans-serif" font-size="13.6" text-anchor="middle"  >1.8</text>
<text transform="translate(268.04,385.20) scale(0.81,1)" font-family="'Liberation Sans', sans-serif" font-size="13.6" text-anchor="middle"  >1.7</text>
<text transform="translate(325.61,385.20) scale(0.81,1)" font-family="'Liberation Sans', sans-serif" font-size="13.6" text-anchor="middle"  >1.75</text>
<text transform="translate(383.17,385.20) scale(0.81,1)" font-family="'Liberation Sans', sans-serif" font-size="13.6" text-anchor="middle"  >1.8</text>
<text transform="translate(46.80,37.90) scale(0.9,1)" font-family="'Liberation Serif', serif" font-size="17.0" text-anchor="start" font-style="italic" >(a)</text>
<text transform="translate(47.10,218.50) scale(0.9,1)" font-family="'Liberation Serif', serif" font-size="17.0" text-anchor="start" font-style="italic" >(b)</text>
<text transform="translate(47.20,305.70) scale(0.9,1)" font-family="'Liberation Serif', serif" font-size="17.0" text-anchor="start" font-style="italic" >(c)</text>
<text transform="translate(243.90,37.30) scale(0.9,1)" font-family="'Liberation Serif', serif" font-size="17.0" text-anchor="start" font-style="italic" >(d)</text>
<text transform="translate(243.90,123.80) scale(0.9,1)" font-family="'Liberation Serif', serif" font-size="17.0" text-anchor="start" font-style="italic" >(e)</text>
<text transform="translate(243.90,218.40) scale(0.9,1)" font-family="'Liberation Serif', serif" font-size="17.0" text-anchor="start" font-style="italic" >(f)</text>
<text transform="translate(243.90,320.35) scale(0.9,1)" font-family="'Liberation Serif', serif" font-size="17.0" text-anchor="start" font-style="italic" >(g)</text>
<path d="M46.8 50.6H70.4" stroke="#ff0000" stroke-width="2.3"/>
<text transform="translate(80.80,57.10) scale(0.76,1)" font-family="'Liberation Serif', serif" font-size="18.0" text-anchor="start"  >A</text>
<path d="M46.8 68.2H70.4" stroke="#000" stroke-width="2.3"/>
<text transform="translate(80.80,74.70) scale(0.76,1)" font-family="'Liberation Serif', serif" font-size="18.0" text-anchor="start"  >B</text>
<path d="M46.8 85.8H70.4" stroke="#0000ff" stroke-width="2.3"/>
<text transform="translate(80.80,92.30) scale(0.76,1)" font-family="'Liberation Serif', serif" font-size="18.0" text-anchor="start"  >C</text>
<path d="M46.8 102.9H70.4" stroke="#008000" stroke-width="2.3"/>
<text transform="translate(80.80,109.40) scale(0.76,1)" font-family="'Liberation Serif', serif" font-size="18.0" text-anchor="start"  >D</text>
<path d="M48.8 230.5H72.6" stroke="#ff0000" stroke-width="2.3"/>
<text transform="translate(77.20,237.00) scale(0.76,1)" font-family="'Liberation Serif', serif" font-size="18.0" text-anchor="start"  >A</text>
<path d="M48.8 247.4H72.6" stroke="#000" stroke-width="2.3"/>
<text transform="translate(77.20,253.90) scale(0.76,1)" font-family="'Liberation Serif', serif" font-size="18.0" text-anchor="start"  >B</text>
<path d="M246.0 49.9H269.7" stroke="#ff0000" stroke-width="2.3"/>
<text transform="translate(273.20,56.40) scale(0.76,1)" font-family="'Liberation Serif', serif" font-size="18.0" text-anchor="start"  >C</text>
<path d="M246.0 66.3H269.7" stroke="#000" stroke-width="2.3"/>
<text transform="translate(273.20,72.80) scale(0.76,1)" font-family="'Liberation Serif', serif" font-size="18.0" text-anchor="start"  >B</text>
<path d="M246.0 230.7H269.7" stroke="#ff0000" stroke-width="2.3"/>
<text transform="translate(273.20,237.20) scale(0.76,1)" font-family="'Liberation Serif', serif" font-size="18.0" text-anchor="start"  >D</text>
<path d="M246.0 247.6H269.7" stroke="#000" stroke-width="2.3"/>
<text transform="translate(273.20,254.10) scale(0.76,1)" font-family="'Liberation Serif', serif" font-size="18.0" text-anchor="start"  >B</text>
<text transform="translate(81.70,307.00) scale(0.77,1)" font-family="'Liberation Serif', serif" font-size="17.2" text-anchor="start"  >A-B</text>
<text transform="translate(277.70,125.90) scale(0.77,1)" font-family="'Liberation Serif', serif" font-size="17.2" text-anchor="start"  >C-B</text>
<text transform="translate(278.10,320.80) scale(0.77,1)" font-family="'Liberation Serif', serif" font-size="17.2" text-anchor="start"  >D-B</text>
<text transform="translate(158.60,400.00) scale(0.94,1)" font-family="'Liberation Serif', serif" font-size="15.2" text-anchor="start"  >Wavelength (<tspan font-style="italic">μm</tspan>)</text>
<text transform="translate(15.4,337.5) rotate(-90) scale(1.12,1)" font-family="'Liberation Serif', serif" font-size="14.5" letter-spacing="0.93">Flux / relative flux (arbitrary units)</text>
</g>
</svg></body></html>
